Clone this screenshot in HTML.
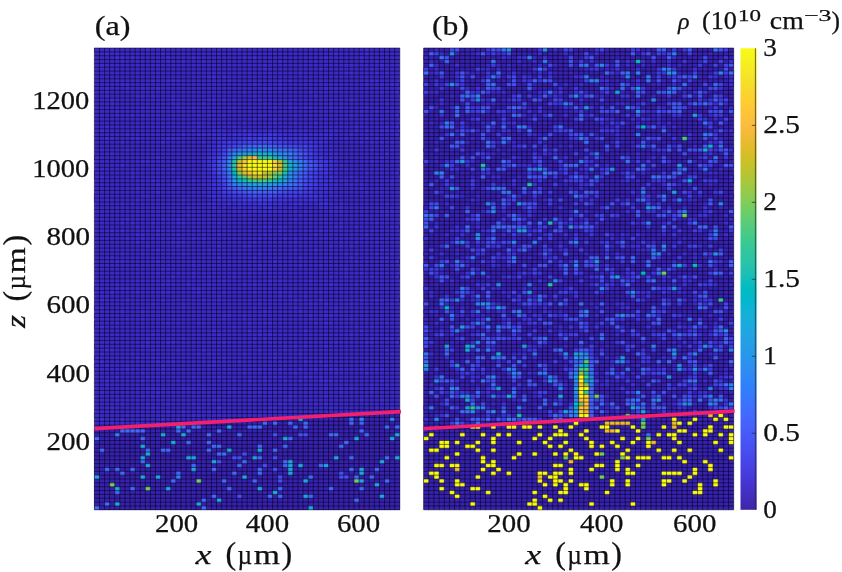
<!DOCTYPE html>
<html><head><meta charset="utf-8"><title>Density maps</title>
<style>html,body{margin:0;padding:0;background:#fff}svg{display:block}text{font-family:"Liberation Serif","DejaVu Serif",serif;fill:#111;stroke:#111;stroke-width:0.25px}</style></head><body>
<svg width="842" height="572" viewBox="0 0 842 572">
<rect width="842" height="572" fill="#fff"/>
<g id="panel-a"><rect x="94.40" y="48.00" width="305.40" height="461.80" fill="#3b29c8"/>
<g transform="translate(94.40,509.80) scale(5.0900,-3.8483)" fill="none" stroke-width="1.04">
<path stroke="#3621b1" d="M1 0.5h20M22 0.5h20M43 0.5h17M0 1.5h2M3 1.5h1M5 1.5h15M21 1.5h39M0 2.5h21M22 2.5h2M25 2.5h26M52 2.5h8M0 3.5h23M24 3.5h4M29 3.5h5M35 3.5h1M37 3.5h4M43 3.5h13M57 3.5h3M0 4.5h4M5 4.5h30M36 4.5h24M0 5.5h4M5 5.5h2M8 5.5h2M11 5.5h3M15 5.5h11M27 5.5h5M33 5.5h3M37 5.5h9M47 5.5h5M53 5.5h7M0 6.5h3M4 6.5h51M56 6.5h4M0 7.5h15M16 7.5h4M21 7.5h4M26 7.5h5M32 7.5h4M37 7.5h4M42 7.5h9M53 7.5h4M58 7.5h2M1 8.5h8M10 8.5h2M13 8.5h3M17 8.5h12M30 8.5h6M37 8.5h5M43 8.5h5M50 8.5h1M52 8.5h2M55 8.5h5M0 9.5h5M6 9.5h10M17 9.5h10M28 9.5h4M33 9.5h5M39 9.5h9M49 9.5h3M53 9.5h7M0 10.5h2M3 10.5h1M5 10.5h2M8 10.5h11M20 10.5h3M24 10.5h8M33 10.5h2M36 10.5h2M39 10.5h11M51 10.5h1M53 10.5h2M56 10.5h4M0 11.5h10M11 11.5h8M20 11.5h8M29 11.5h4M34 11.5h3M39 11.5h1M41 11.5h3M46 11.5h14M0 12.5h9M10 12.5h13M25 12.5h4M30 12.5h7M39 12.5h17M57 12.5h3M0 13.5h9M10 13.5h8M20 13.5h7M29 13.5h2M33 13.5h2M36 13.5h11M48 13.5h2M51 13.5h6M58 13.5h1M0 14.5h10M11 14.5h13M26 14.5h3M30 14.5h30M0 15.5h1M2 15.5h8M11 15.5h2M15 15.5h7M23 15.5h3M27 15.5h5M33 15.5h2M36 15.5h24M0 16.5h9M10 16.5h13M25 16.5h7M33 16.5h4M38 16.5h10M49 16.5h11M0 17.5h15M16 17.5h2M19 17.5h3M23 17.5h26M50 17.5h10M1 18.5h8M10 18.5h27M39 18.5h12M52 18.5h6M59 18.5h1M0 19.5h4M5 19.5h8M14 19.5h3M18 19.5h4M23 19.5h5M29 19.5h6M36 19.5h4M42 19.5h4M48 19.5h5M54 19.5h5M0 20.5h5M10 20.5h6M17 20.5h1M19 20.5h5M25 20.5h27M53 20.5h7M5 21.5h11M18 21.5h1M21 21.5h5M27 21.5h3M33 21.5h6M40 21.5h1M42 21.5h15M58 21.5h1M18 22.5h15M34 22.5h1M36 22.5h2M39 22.5h2M42 22.5h8M51 22.5h1M53 22.5h7M32 23.5h8M41 23.5h9M51 23.5h1M53 23.5h5M59 23.5h1M45 24.5h15M58 25.5h2"/>
<path stroke="#3d2dd3" d="M1 21.5h1M3 22.5h1M5 22.5h1M8 22.5h1M15 22.5h1M1 23.5h1M5 23.5h1M13 23.5h1M16 23.5h1M22 23.5h1M25 23.5h2M30 23.5h1M0 24.5h1M6 24.5h1M19 24.5h2M24 24.5h1M32 24.5h1M43 24.5h1M14 25.5h1M17 25.5h1M22 25.5h1M55 25.5h1M3 26.5h1M10 26.5h2M20 26.5h1M34 26.5h2M37 26.5h1M46 26.5h1M55 26.5h1M58 26.5h1M5 27.5h1M10 27.5h1M14 27.5h1M19 27.5h1M36 27.5h2M43 27.5h1M45 27.5h1M4 28.5h1M23 28.5h2M37 28.5h2M52 28.5h1M56 28.5h1M9 29.5h1M11 29.5h1M38 29.5h1M45 29.5h1M1 30.5h1M12 30.5h1M26 30.5h1M32 30.5h1M35 30.5h1M48 30.5h1M54 30.5h1M10 31.5h2M13 31.5h1M17 31.5h3M21 31.5h1M27 31.5h1M45 31.5h1M48 31.5h1M50 31.5h1M54 31.5h1M2 32.5h1M20 32.5h1M54 32.5h1M57 32.5h1M2 33.5h1M9 33.5h1M16 33.5h1M27 33.5h1M30 33.5h1M33 33.5h1M37 33.5h1M40 33.5h1M44 33.5h3M56 33.5h1M4 34.5h1M10 34.5h1M19 34.5h1M24 34.5h1M33 34.5h1M35 34.5h1M41 34.5h2M44 34.5h1M9 35.5h1M13 35.5h1M29 35.5h1M39 35.5h1M47 35.5h1M53 35.5h1M6 36.5h1M13 36.5h1M32 36.5h1M36 36.5h1M40 36.5h1M43 36.5h1M46 36.5h2M52 36.5h1M55 36.5h2M0 37.5h1M2 37.5h1M6 37.5h1M13 37.5h1M22 37.5h2M45 37.5h1M53 37.5h1M55 37.5h1M1 38.5h1M12 38.5h1M14 38.5h2M23 38.5h1M28 38.5h1M41 38.5h1M44 38.5h1M0 39.5h1M8 39.5h1M11 39.5h1M25 39.5h1M35 39.5h1M1 40.5h1M7 40.5h1M20 40.5h1M22 40.5h1M29 40.5h1M35 40.5h1M40 40.5h1M58 40.5h1M2 41.5h2M11 41.5h1M16 41.5h1M21 41.5h1M32 41.5h1M37 41.5h1M57 41.5h1M0 42.5h1M9 42.5h2M37 42.5h1M39 42.5h1M41 42.5h1M45 42.5h1M10 43.5h1M14 43.5h2M25 43.5h1M47 43.5h1M53 43.5h2M59 43.5h1M10 44.5h1M14 44.5h1M17 44.5h1M31 44.5h1M33 44.5h1M54 44.5h1M57 44.5h2M11 45.5h1M24 45.5h1M32 45.5h1M34 45.5h1M50 45.5h1M23 46.5h1M30 46.5h1M32 46.5h1M41 46.5h1M52 46.5h1M0 47.5h2M27 47.5h1M51 47.5h1M54 47.5h1M0 48.5h1M4 48.5h1M14 48.5h1M16 48.5h1M20 48.5h1M30 48.5h1M33 48.5h2M43 48.5h1M45 48.5h2M57 48.5h1M6 49.5h1M9 49.5h1M25 49.5h1M29 49.5h1M50 49.5h1M0 50.5h1M25 50.5h2M29 50.5h1M42 50.5h1M45 50.5h2M5 51.5h1M9 51.5h1M33 51.5h1M40 51.5h1M47 51.5h1M0 52.5h2M17 52.5h1M31 52.5h1M39 52.5h1M47 52.5h1M11 53.5h1M17 53.5h1M32 53.5h1M42 53.5h2M45 53.5h1M50 53.5h1M58 53.5h1M1 54.5h1M6 54.5h1M13 54.5h1M21 54.5h1M24 54.5h1M39 54.5h1M44 54.5h1M52 54.5h1M55 54.5h2M59 54.5h1M1 55.5h2M24 55.5h1M36 55.5h1M38 55.5h1M41 55.5h1M3 56.5h1M8 56.5h1M13 56.5h2M20 56.5h1M25 56.5h1M31 56.5h1M36 56.5h1M44 56.5h1M55 56.5h1M0 57.5h1M4 57.5h3M19 57.5h2M4 58.5h1M13 58.5h2M18 58.5h1M22 58.5h1M29 58.5h1M31 58.5h1M46 58.5h1M51 58.5h1M14 59.5h1M25 59.5h1M34 59.5h1M36 59.5h1M42 59.5h1M52 59.5h1M15 60.5h1M19 60.5h1M22 60.5h1M27 60.5h1M46 60.5h1M49 60.5h1M54 60.5h1M59 60.5h1M12 61.5h1M16 61.5h1M19 61.5h1M27 61.5h1M49 61.5h1M52 61.5h1M13 62.5h2M32 62.5h1M49 62.5h1M19 63.5h1M32 63.5h1M40 63.5h1M44 63.5h1M4 64.5h2M12 64.5h1M19 64.5h1M35 64.5h1M51 64.5h1M59 64.5h1M3 65.5h1M24 65.5h1M31 65.5h1M40 65.5h1M50 65.5h1M56 65.5h2M5 66.5h1M9 66.5h1M17 66.5h1M32 66.5h1M49 66.5h1M51 66.5h1M55 66.5h1M58 66.5h1M12 67.5h1M22 67.5h1M39 67.5h1M43 67.5h1M56 67.5h1M10 68.5h1M16 68.5h1M24 68.5h1M29 68.5h2M46 68.5h1M48 68.5h1M50 68.5h1M8 69.5h1M15 69.5h3M31 69.5h1M39 69.5h1M48 69.5h1M51 69.5h1M55 69.5h1M6 70.5h1M9 70.5h1M19 70.5h1M21 70.5h1M32 70.5h1M37 70.5h1M39 70.5h1M8 71.5h2M12 71.5h1M16 71.5h1M21 71.5h1M24 71.5h1M33 71.5h1M43 71.5h1M53 71.5h1M3 72.5h1M5 72.5h1M12 72.5h1M36 72.5h1M44 72.5h1M54 72.5h1M8 73.5h1M33 73.5h2M36 73.5h2M47 73.5h2M51 73.5h1M58 73.5h2M5 74.5h1M7 74.5h1M11 74.5h1M16 74.5h2M24 74.5h1M48 74.5h1M55 74.5h1M6 75.5h1M13 75.5h1M16 75.5h1M39 75.5h1M18 76.5h1M29 76.5h1M33 76.5h1M40 76.5h1M57 76.5h1M24 77.5h1M27 77.5h11M39 77.5h1M41 77.5h1M46 77.5h3M56 77.5h3M18 78.5h1M23 78.5h1M25 78.5h1M27 78.5h4M32 78.5h1M35 78.5h5M44 78.5h2M47 78.5h2M5 79.5h1M7 79.5h1M22 79.5h4M27 79.5h1M37 79.5h2M41 79.5h3M46 79.5h1M48 79.5h1M57 79.5h1M0 80.5h1M2 80.5h1M8 80.5h1M17 80.5h1M23 80.5h1M44 80.5h2M0 81.5h1M9 81.5h2M22 81.5h1M45 81.5h3M12 82.5h1M21 82.5h3M45 82.5h2M53 82.5h1M8 83.5h1M22 83.5h1M46 83.5h2M52 83.5h1M12 84.5h1M15 84.5h2M21 84.5h2M46 84.5h2M49 84.5h2M52 84.5h1M58 84.5h1M11 85.5h1M16 85.5h1M19 85.5h1M21 85.5h2M47 85.5h3M51 85.5h1M58 85.5h1M0 86.5h2M7 86.5h1M21 86.5h2M47 86.5h1M50 86.5h1M0 87.5h1M7 87.5h1M21 87.5h2M46 87.5h2M53 87.5h1M59 87.5h1M15 88.5h1M21 88.5h1M47 88.5h1M49 88.5h1M5 89.5h1M21 89.5h1M47 89.5h2M9 90.5h2M21 90.5h1M47 90.5h1M54 90.5h1M0 91.5h1M12 91.5h1M21 91.5h1M45 91.5h3M56 91.5h1M3 92.5h1M22 92.5h1M45 92.5h3M57 92.5h1M1 93.5h1M6 93.5h1M22 93.5h1M45 93.5h2M54 93.5h1M56 93.5h1M58 93.5h1M22 94.5h2M45 94.5h2M5 95.5h1M13 95.5h1M21 95.5h1M23 95.5h1M45 95.5h1M52 95.5h1M54 95.5h1M56 95.5h1M58 95.5h1M2 96.5h2M7 96.5h2M14 96.5h3M23 96.5h1M26 96.5h1M42 96.5h5M49 96.5h1M53 96.5h1M55 96.5h1M6 97.5h1M17 97.5h1M20 97.5h7M37 97.5h10M50 97.5h1M59 97.5h1M1 98.5h1M19 98.5h1M23 98.5h3M27 98.5h2M30 98.5h12M45 98.5h3M51 98.5h1M53 98.5h1M56 98.5h3M2 99.5h1M20 99.5h1M27 99.5h1M51 99.5h1M57 99.5h1M59 99.5h1M20 100.5h1M29 100.5h1M35 100.5h1M39 100.5h1M43 100.5h1M31 101.5h1M35 101.5h1M4 102.5h1M7 102.5h1M9 102.5h1M20 102.5h1M22 102.5h1M25 102.5h1M32 102.5h2M39 102.5h1M50 102.5h1M59 102.5h1M4 103.5h1M52 103.5h1M55 103.5h1M57 103.5h1M9 104.5h1M16 104.5h1M19 104.5h1M27 104.5h1M35 104.5h1M38 104.5h2M41 104.5h2M46 104.5h1M48 104.5h1M53 104.5h1M3 105.5h1M15 105.5h2M21 105.5h1M33 105.5h1M38 105.5h1M46 105.5h1M48 105.5h1M57 105.5h1M3 106.5h1M15 106.5h1M22 106.5h2M25 106.5h1M27 106.5h1M32 106.5h1M50 106.5h1M2 107.5h1M8 107.5h2M11 107.5h1M15 107.5h1M31 107.5h1M43 107.5h1M2 108.5h1M29 108.5h1M42 108.5h1M56 108.5h1M59 108.5h1M2 109.5h1M6 109.5h1M9 109.5h1M12 109.5h1M33 109.5h2M36 109.5h1M45 109.5h1M47 109.5h1M5 110.5h2M31 110.5h1M36 110.5h1M53 110.5h1M56 110.5h1M58 110.5h2M4 111.5h1M11 111.5h1M14 111.5h3M26 111.5h1M36 111.5h1M38 111.5h1M54 111.5h2M22 112.5h2M25 112.5h1M40 113.5h1M49 113.5h2M55 113.5h1M57 113.5h1M33 114.5h1M44 114.5h1M54 114.5h1M1 115.5h1M33 115.5h1M49 115.5h2M56 115.5h1M5 116.5h1M14 116.5h1M17 116.5h1M21 116.5h1M36 116.5h1M43 116.5h1M52 116.5h1M55 116.5h1M4 117.5h2M7 117.5h1M14 117.5h1M19 117.5h1M29 117.5h1M31 117.5h1M45 117.5h1M52 117.5h1M2 118.5h1M4 118.5h1M13 118.5h1M47 118.5h1M53 118.5h1M0 119.5h1M3 119.5h1M10 119.5h1M28 119.5h1M53 119.5h1"/>
<path stroke="#3f31dd" d="M24 26.5h1M31 78.5h1M33 78.5h2M26 79.5h1M28 79.5h4M34 79.5h3M39 79.5h2M44 79.5h2M24 80.5h3M38 80.5h6M23 81.5h2M44 81.5h1M24 82.5h1M43 82.5h2M23 83.5h1M44 83.5h2M23 84.5h1M44 84.5h2M23 85.5h1M45 85.5h2M23 86.5h1M45 86.5h2M22 88.5h1M46 88.5h1M22 89.5h1M46 89.5h1M22 90.5h1M46 90.5h1M22 91.5h1M23 92.5h1M44 92.5h1M23 93.5h1M44 93.5h1M44 94.5h1M24 95.5h1M43 95.5h2M24 96.5h2M27 96.5h2M37 96.5h5M27 97.5h3M31 97.5h3M36 97.5h1M29 98.5h1"/>
<path stroke="#4136e5" d="M32 79.5h2M27 80.5h2M35 80.5h3M25 81.5h2M40 81.5h4M24 83.5h1M43 83.5h1M24 84.5h1M44 85.5h1M44 86.5h1M23 87.5h1M44 87.5h2M45 88.5h1M45 89.5h1M23 90.5h1M45 90.5h1M23 91.5h1M43 91.5h2M24 92.5h1M43 92.5h1M24 93.5h1M43 93.5h1M24 94.5h1M43 94.5h1M25 95.5h1M38 95.5h5M29 96.5h1M31 96.5h1M35 96.5h2M30 97.5h1M34 97.5h2"/>
<path stroke="#423cec" d="M29 80.5h3M33 80.5h2M27 81.5h2M36 81.5h4M25 82.5h1M41 82.5h2M42 83.5h1M43 84.5h1M24 85.5h1M43 85.5h1M24 86.5h1M43 86.5h1M43 87.5h1M23 88.5h1M44 88.5h1M23 89.5h1M44 90.5h1M42 91.5h1M42 93.5h1M25 94.5h1M42 94.5h1M26 95.5h2M37 95.5h1M30 96.5h1M32 96.5h3"/>
<path stroke="#4342f1" d="M32 80.5h1M29 81.5h1M35 81.5h1M26 82.5h1M38 82.5h3M25 83.5h1M41 83.5h1M25 84.5h1M42 84.5h1M42 85.5h1M42 87.5h1M44 89.5h1M24 91.5h1M42 92.5h1M25 93.5h1M26 94.5h1M40 94.5h2M28 95.5h2M35 95.5h2"/>
<path stroke="#4448f5" d="M30 81.5h1M32 81.5h2M27 82.5h1M37 82.5h1M41 84.5h1M42 86.5h1M24 87.5h1M24 88.5h1M43 88.5h1M24 89.5h1M24 90.5h1M43 90.5h1M41 91.5h1M25 92.5h1M41 93.5h1M27 94.5h1M38 94.5h2M30 95.5h5"/>
<path stroke="#454ef9" d="M28 3.5h1M36 7.5h1M36 8.5h1M48 8.5h2M48 9.5h1M35 10.5h1M33 11.5h1M24 12.5h1M27 13.5h2M35 13.5h1M29 14.5h1M35 19.5h1M40 19.5h2M31 81.5h1M34 81.5h1M28 82.5h1M36 82.5h1M40 83.5h1M25 85.5h1M41 85.5h1M25 86.5h1M43 89.5h1M41 92.5h1M40 93.5h1M28 94.5h1M37 94.5h1"/>
<path stroke="#4554fb" d="M29 82.5h1M26 83.5h1M39 83.5h1M41 86.5h1M25 87.5h1M41 87.5h1M42 88.5h1M42 90.5h1M25 91.5h1M40 91.5h1M36 94.5h1"/>
<path stroke="#455bfd" d="M30 82.5h1M33 82.5h3M27 83.5h1M37 83.5h2M26 84.5h1M40 84.5h1M40 85.5h1M42 89.5h1M25 90.5h1M40 92.5h1M26 93.5h1M29 94.5h1M35 94.5h1"/>
<path stroke="#4461fe" d="M31 82.5h2M40 86.5h1M40 87.5h1M25 88.5h1M25 89.5h1M26 92.5h1M38 93.5h2M30 94.5h1M34 94.5h1"/>
<path stroke="#4268ff" d="M0 0.5h1M21 0.5h1M2 1.5h1M21 2.5h1M51 2.5h1M23 3.5h1M34 3.5h1M36 3.5h1M42 3.5h1M4 4.5h1M7 5.5h1M26 5.5h1M36 5.5h1M46 5.5h1M52 5.5h1M15 7.5h1M25 7.5h1M31 7.5h1M57 7.5h1M42 8.5h1M51 8.5h1M54 8.5h1M5 9.5h1M16 9.5h1M27 9.5h1M32 9.5h1M2 10.5h1M4 10.5h1M7 10.5h1M23 10.5h1M32 10.5h1M50 10.5h1M55 10.5h1M19 11.5h1M28 11.5h1M37 11.5h1M44 11.5h1M9 12.5h1M29 12.5h1M37 12.5h1M32 13.5h1M50 13.5h1M57 13.5h1M24 14.5h2M1 15.5h1M10 15.5h1M13 15.5h2M22 15.5h1M35 15.5h1M23 16.5h2M32 16.5h1M37 16.5h1M48 16.5h1M18 17.5h1M22 17.5h1M49 17.5h1M0 18.5h1M9 18.5h1M38 18.5h1M22 19.5h1M28 19.5h1M46 19.5h2M53 19.5h1M5 20.5h5M16 20.5h1M18 20.5h1M24 20.5h1M52 20.5h1M17 21.5h1M19 21.5h2M30 21.5h3M39 21.5h1M41 21.5h1M57 21.5h1M59 21.5h1M33 22.5h1M35 22.5h1M38 22.5h1M41 22.5h1M50 22.5h1M52 22.5h1M50 23.5h1M28 83.5h1M36 83.5h1M39 84.5h1M26 85.5h1M41 88.5h1M41 89.5h1M41 90.5h1M39 91.5h1M39 92.5h1M27 93.5h1M31 94.5h3"/>
<path stroke="#3e6fff" d="M35 83.5h1M39 85.5h1M26 86.5h1M36 93.5h2"/>
<path stroke="#3875fe" d="M29 83.5h1M38 84.5h1M39 87.5h1M38 91.5h1M28 93.5h1"/>
<path stroke="#327cfc" d="M30 83.5h1M34 83.5h1M27 84.5h1M37 84.5h1M39 86.5h1M26 87.5h1M40 88.5h1M40 90.5h1M26 91.5h1M29 93.5h1M35 93.5h1"/>
<path stroke="#2f81fa" d="M16 8.5h1M4 19.5h1M52 23.5h1M58 23.5h1M31 83.5h3M38 85.5h1M40 89.5h1M27 92.5h1M38 92.5h1"/>
<path stroke="#2e87f7" d="M28 84.5h1M36 84.5h1M26 90.5h1M37 92.5h1M30 93.5h1M34 93.5h1"/>
<path stroke="#2d8cf3" d="M38 86.5h1M38 87.5h1M26 88.5h1M36 92.5h1M31 93.5h1M33 93.5h1"/>
<path stroke="#2b91ef" d="M29 84.5h1M35 84.5h1M26 89.5h1M39 90.5h1M37 91.5h1M28 92.5h1M32 93.5h1"/>
<path stroke="#2797eb" d="M27 85.5h1M39 88.5h1"/>
<path stroke="#259be8" d="M34 84.5h1M37 85.5h1M39 89.5h1M29 92.5h1M35 92.5h1"/>
<path stroke="#23a0e5" d="M30 84.5h1M33 84.5h1M27 86.5h1"/>
<path stroke="#20a5e3" d="M42 0.5h1M4 1.5h1M20 1.5h1M24 2.5h1M41 3.5h1M56 3.5h1M35 4.5h1M4 5.5h1M14 5.5h1M32 5.5h1M55 6.5h1M41 7.5h1M52 7.5h1M0 8.5h1M9 8.5h1M12 8.5h1M29 8.5h1M38 9.5h1M52 9.5h1M19 10.5h1M38 10.5h1M52 10.5h1M10 11.5h1M38 11.5h1M40 11.5h1M45 11.5h1M23 12.5h1M38 12.5h1M56 12.5h1M9 13.5h1M18 13.5h2M31 13.5h1M47 13.5h1M59 13.5h1M10 14.5h1M26 15.5h1M32 15.5h1M9 16.5h1M15 17.5h1M37 18.5h1M51 18.5h1M58 18.5h1M13 19.5h1M17 19.5h1M59 19.5h1M16 21.5h1M26 21.5h1M40 23.5h1M31 84.5h2M30 92.5h1"/>
<path stroke="#1ca9df" d="M37 86.5h1M38 90.5h1M27 91.5h1M36 91.5h1M34 92.5h1"/>
<path stroke="#18addb" d="M33 92.5h1"/>
<path stroke="#12b1d6" d="M38 88.5h1M38 89.5h1M31 92.5h2"/>
<path stroke="#08b5d0" d="M28 85.5h1M36 85.5h1"/>
<path stroke="#01b8ca" d="M27 87.5h1"/>
<path stroke="#0bbdbd" d="M35 85.5h1M35 91.5h1"/>
<path stroke="#19bfb6" d="M29 85.5h1M37 87.5h1"/>
<path stroke="#24c1ae" d="M27 90.5h1"/>
<path stroke="#2cc4a7" d="M27 88.5h1"/>
<path stroke="#31c69f" d="M30 85.5h1M34 85.5h1M28 86.5h1M36 86.5h1M27 89.5h1M33 91.5h2"/>
<path stroke="#37c897" d="M37 90.5h1M32 91.5h1"/>
<path stroke="#3fca8e" d="M31 85.5h1M33 85.5h1M37 88.5h1M37 89.5h1M28 91.5h1"/>
<path stroke="#4acb84" d="M32 85.5h1"/>
<path stroke="#57cc7a" d="M29 86.5h1"/>
<path stroke="#64cd6f" d="M35 86.5h1"/>
<path stroke="#72cd64" d="M10 5.5h1M3 6.5h1M20 7.5h1M51 7.5h1M35 87.5h2"/>
<path stroke="#81cc59" d="M28 87.5h1"/>
<path stroke="#9dc943" d="M30 86.5h1M34 86.5h1M29 91.5h1"/>
<path stroke="#abc739" d="M34 87.5h1"/>
<path stroke="#b9c431" d="M33 86.5h1M36 90.5h1"/>
<path stroke="#c5c22a" d="M31 86.5h2M33 87.5h1M36 88.5h1M28 90.5h1"/>
<path stroke="#d1bf27" d="M28 88.5h1"/>
<path stroke="#dcbd29" d="M36 89.5h1M30 91.5h1"/>
<path stroke="#e6bb2d" d="M29 87.5h1M28 89.5h1"/>
<path stroke="#f8ba3d" d="M31 91.5h1"/>
<path stroke="#fec338" d="M30 87.5h1"/>
<path stroke="#fec934" d="M29 90.5h1"/>
<path stroke="#fccf30" d="M35 90.5h1"/>
<path stroke="#fad62d" d="M29 88.5h1M35 88.5h1"/>
<path stroke="#f7dc2a" d="M31 87.5h1"/>
<path stroke="#f5e327" d="M32 87.5h1M29 89.5h1M35 89.5h1"/>
<path stroke="#f9fb15" d="M30 88.5h5M30 89.5h5M30 90.5h5"/>
</g>
<path d="M94.40 48.00V509.80M99.49 48.00V509.80M104.58 48.00V509.80M109.67 48.00V509.80M114.76 48.00V509.80M119.85 48.00V509.80M124.94 48.00V509.80M130.03 48.00V509.80M135.12 48.00V509.80M140.21 48.00V509.80M145.30 48.00V509.80M150.39 48.00V509.80M155.48 48.00V509.80M160.57 48.00V509.80M165.66 48.00V509.80M170.75 48.00V509.80M175.84 48.00V509.80M180.93 48.00V509.80M186.02 48.00V509.80M191.11 48.00V509.80M196.20 48.00V509.80M201.29 48.00V509.80M206.38 48.00V509.80M211.47 48.00V509.80M216.56 48.00V509.80M221.65 48.00V509.80M226.74 48.00V509.80M231.83 48.00V509.80M236.92 48.00V509.80M242.01 48.00V509.80M247.10 48.00V509.80M252.19 48.00V509.80M257.28 48.00V509.80M262.37 48.00V509.80M267.46 48.00V509.80M272.55 48.00V509.80M277.64 48.00V509.80M282.73 48.00V509.80M287.82 48.00V509.80M292.91 48.00V509.80M298.00 48.00V509.80M303.09 48.00V509.80M308.18 48.00V509.80M313.27 48.00V509.80M318.36 48.00V509.80M323.45 48.00V509.80M328.54 48.00V509.80M333.63 48.00V509.80M338.72 48.00V509.80M343.81 48.00V509.80M348.90 48.00V509.80M353.99 48.00V509.80M359.08 48.00V509.80M364.17 48.00V509.80M369.26 48.00V509.80M374.35 48.00V509.80M379.44 48.00V509.80M384.53 48.00V509.80M389.62 48.00V509.80M394.71 48.00V509.80M399.80 48.00V509.80M94.40 48.00H399.80M94.40 51.85H399.80M94.40 55.70H399.80M94.40 59.55H399.80M94.40 63.39H399.80M94.40 67.24H399.80M94.40 71.09H399.80M94.40 74.94H399.80M94.40 78.79H399.80M94.40 82.64H399.80M94.40 86.48H399.80M94.40 90.33H399.80M94.40 94.18H399.80M94.40 98.03H399.80M94.40 101.88H399.80M94.40 105.72H399.80M94.40 109.57H399.80M94.40 113.42H399.80M94.40 117.27H399.80M94.40 121.12H399.80M94.40 124.97H399.80M94.40 128.81H399.80M94.40 132.66H399.80M94.40 136.51H399.80M94.40 140.36H399.80M94.40 144.21H399.80M94.40 148.06H399.80M94.40 151.91H399.80M94.40 155.75H399.80M94.40 159.60H399.80M94.40 163.45H399.80M94.40 167.30H399.80M94.40 171.15H399.80M94.40 175.00H399.80M94.40 178.84H399.80M94.40 182.69H399.80M94.40 186.54H399.80M94.40 190.39H399.80M94.40 194.24H399.80M94.40 198.09H399.80M94.40 201.93H399.80M94.40 205.78H399.80M94.40 209.63H399.80M94.40 213.48H399.80M94.40 217.33H399.80M94.40 221.18H399.80M94.40 225.02H399.80M94.40 228.87H399.80M94.40 232.72H399.80M94.40 236.57H399.80M94.40 240.42H399.80M94.40 244.27H399.80M94.40 248.11H399.80M94.40 251.96H399.80M94.40 255.81H399.80M94.40 259.66H399.80M94.40 263.51H399.80M94.40 267.36H399.80M94.40 271.20H399.80M94.40 275.05H399.80M94.40 278.90H399.80M94.40 282.75H399.80M94.40 286.60H399.80M94.40 290.45H399.80M94.40 294.29H399.80M94.40 298.14H399.80M94.40 301.99H399.80M94.40 305.84H399.80M94.40 309.69H399.80M94.40 313.54H399.80M94.40 317.38H399.80M94.40 321.23H399.80M94.40 325.08H399.80M94.40 328.93H399.80M94.40 332.78H399.80M94.40 336.62H399.80M94.40 340.47H399.80M94.40 344.32H399.80M94.40 348.17H399.80M94.40 352.02H399.80M94.40 355.87H399.80M94.40 359.72H399.80M94.40 363.56H399.80M94.40 367.41H399.80M94.40 371.26H399.80M94.40 375.11H399.80M94.40 378.96H399.80M94.40 382.81H399.80M94.40 386.65H399.80M94.40 390.50H399.80M94.40 394.35H399.80M94.40 398.20H399.80M94.40 402.05H399.80M94.40 405.90H399.80M94.40 409.74H399.80M94.40 413.59H399.80M94.40 417.44H399.80M94.40 421.29H399.80M94.40 425.14H399.80M94.40 428.99H399.80M94.40 432.83H399.80M94.40 436.68H399.80M94.40 440.53H399.80M94.40 444.38H399.80M94.40 448.23H399.80M94.40 452.08H399.80M94.40 455.92H399.80M94.40 459.77H399.80M94.40 463.62H399.80M94.40 467.47H399.80M94.40 471.32H399.80M94.40 475.17H399.80M94.40 479.01H399.80M94.40 482.86H399.80M94.40 486.71H399.80M94.40 490.56H399.80M94.40 494.41H399.80M94.40 498.26H399.80M94.40 502.10H399.80M94.40 505.95H399.80M94.40 509.80H399.80" fill="none" stroke="#000" stroke-width="0.65" opacity="0.8"/><line x1="94.4" y1="428.6" x2="401.0" y2="411.6" stroke="#f4206f" stroke-width="3.6"/></g>
<g id="panel-b"><rect x="423.60" y="48.00" width="310.10" height="461.80" fill="#3621b1"/>
<g transform="translate(423.60,509.80) scale(5.1683,-3.8483)" fill="none" stroke-width="1.04">
<path stroke="#3925bd" d="M8 22.5h1M22 25.5h2M25 25.5h1M34 26.5h1M43 26.5h1M21 27.5h1M33 27.5h1M47 27.5h1M53 27.5h1M46 29.5h2M15 30.5h1M42 30.5h1M59 30.5h1M9 31.5h1M18 31.5h3M27 31.5h1M37 31.5h1M49 31.5h1M53 31.5h1M23 32.5h1M33 32.5h1M36 33.5h1M40 33.5h1M35 34.5h1M6 35.5h1M10 35.5h1M56 35.5h1M22 36.5h1M38 37.5h1M45 37.5h1M48 37.5h1M23 38.5h1M9 39.5h1M47 39.5h1M52 39.5h1M57 39.5h1M8 40.5h1M11 41.5h1M14 41.5h1M18 41.5h1M49 41.5h1M5 42.5h1M14 42.5h1M35 42.5h1M5 43.5h1M34 43.5h1M39 43.5h1M45 43.5h1M45 44.5h1M48 44.5h1M4 45.5h1M18 45.5h1M54 45.5h1M1 46.5h1M10 46.5h1M16 46.5h1M55 46.5h1M3 47.5h1M25 47.5h1M35 47.5h1M0 48.5h1M3 48.5h1M19 48.5h1M22 48.5h1M42 49.5h1M59 49.5h1M2 50.5h1M35 50.5h1M50 50.5h2M57 50.5h1M0 51.5h1M54 51.5h1M58 51.5h1M35 52.5h1M7 53.5h1M33 53.5h1M35 53.5h1M39 53.5h1M40 54.5h1M39 55.5h1M41 55.5h2M31 56.5h1M48 56.5h1M53 56.5h1M10 57.5h1M22 57.5h1M36 57.5h2M2 58.5h1M5 58.5h1M21 60.5h1M27 60.5h1M31 60.5h1M45 60.5h1M6 61.5h1M24 61.5h1M20 62.5h1M44 63.5h1M46 63.5h2M12 64.5h1M42 64.5h1M7 65.5h1M19 65.5h1M29 65.5h1M54 65.5h1M0 66.5h1M38 66.5h1M41 66.5h1M20 67.5h1M32 67.5h1M41 69.5h1M43 69.5h1M48 69.5h1M31 70.5h1M50 70.5h1M54 70.5h1M42 71.5h1M45 71.5h1M41 72.5h1M9 73.5h1M11 73.5h1M51 73.5h1M17 74.5h1M45 74.5h1M54 74.5h1M30 75.5h1M49 75.5h1M6 76.5h1M19 76.5h1M26 76.5h1M44 76.5h1M52 76.5h1M55 76.5h1M21 77.5h1M48 77.5h1M0 78.5h1M36 78.5h1M44 79.5h1M49 79.5h1M10 80.5h1M44 80.5h1M12 81.5h1M14 81.5h1M41 81.5h1M59 81.5h1M18 83.5h1M21 83.5h1M39 83.5h1M27 84.5h1M49 85.5h1M59 85.5h1M6 86.5h1M21 87.5h2M50 87.5h1M57 87.5h1M4 88.5h1M24 88.5h1M24 89.5h1M32 89.5h1M39 89.5h1M47 89.5h1M57 89.5h1M1 90.5h1M36 90.5h1M2 91.5h1M8 91.5h1M26 91.5h1M43 91.5h1M49 91.5h1M39 92.5h1M46 92.5h1M0 93.5h1M5 93.5h1M9 93.5h1M11 93.5h1M16 93.5h2M21 93.5h1M24 93.5h1M15 94.5h1M36 95.5h1M40 95.5h1M6 96.5h1M18 96.5h1M38 96.5h1M55 96.5h1M6 97.5h1M16 97.5h1M22 97.5h1M33 97.5h1M1 98.5h1M11 98.5h1M13 98.5h1M8 99.5h1M11 99.5h1M17 99.5h1M29 99.5h1M34 99.5h1M36 99.5h1M47 99.5h1M53 99.5h1M23 100.5h1M26 100.5h1M39 100.5h1M58 100.5h1M41 101.5h1M44 101.5h1M48 101.5h1M38 102.5h1M44 102.5h1M1 103.5h1M27 103.5h2M52 103.5h1M20 104.5h1M11 105.5h1M17 105.5h2M8 106.5h1M47 106.5h1M21 107.5h1M52 107.5h1M5 109.5h1M21 109.5h1M21 110.5h1M29 110.5h1M33 110.5h1M44 110.5h1M58 110.5h1M16 111.5h1M37 111.5h1M39 111.5h1M46 111.5h1M8 112.5h1M53 112.5h1M9 113.5h2M16 113.5h1M25 113.5h1M28 113.5h1M49 113.5h1M36 114.5h1M54 114.5h1M19 115.5h1M36 115.5h1M40 116.5h1M0 117.5h2M9 118.5h1M37 118.5h1M55 118.5h1M8 119.5h2M35 119.5h1M43 119.5h1"/>
<path stroke="#3b29c8" d="M9 22.5h1M8 23.5h1M2 24.5h1M10 25.5h1M37 25.5h1M40 25.5h1M43 25.5h1M0 26.5h1M12 26.5h1M35 26.5h1M13 27.5h1M52 27.5h1M17 28.5h2M25 28.5h1M21 29.5h1M11 30.5h1M21 30.5h1M26 30.5h1M1 32.5h1M27 32.5h1M34 32.5h1M51 32.5h1M26 33.5h1M37 33.5h1M42 33.5h1M14 34.5h1M16 34.5h1M39 34.5h1M13 35.5h1M21 35.5h1M40 35.5h1M58 35.5h1M10 36.5h1M48 36.5h1M58 36.5h1M27 37.5h1M36 37.5h1M41 37.5h1M8 39.5h1M33 39.5h1M17 40.5h2M55 40.5h1M9 41.5h1M19 41.5h1M21 42.5h1M27 42.5h1M48 43.5h1M56 44.5h1M37 46.5h1M44 46.5h1M7 48.5h1M33 48.5h1M49 48.5h1M0 49.5h1M8 49.5h1M30 49.5h1M6 50.5h1M9 50.5h3M20 51.5h1M24 51.5h1M26 51.5h1M7 52.5h1M20 52.5h2M18 53.5h1M32 53.5h1M52 53.5h1M25 54.5h1M21 55.5h1M52 55.5h1M16 56.5h1M47 56.5h1M50 56.5h1M14 57.5h1M21 57.5h1M27 57.5h1M40 57.5h1M19 58.5h1M48 58.5h1M59 58.5h1M17 60.5h1M3 61.5h1M10 61.5h1M20 61.5h1M34 61.5h1M26 62.5h1M46 62.5h1M14 63.5h1M56 63.5h1M8 64.5h2M52 64.5h1M20 65.5h1M55 65.5h1M6 66.5h1M22 66.5h1M31 66.5h1M47 66.5h1M6 67.5h1M41 67.5h2M10 68.5h1M18 68.5h1M36 68.5h1M39 68.5h1M4 69.5h1M11 69.5h1M26 69.5h1M17 70.5h1M38 70.5h1M52 70.5h1M18 71.5h2M39 71.5h1M15 72.5h1M33 73.5h1M2 74.5h1M10 74.5h1M15 74.5h1M25 74.5h1M29 74.5h1M41 74.5h1M59 75.5h1M28 76.5h1M11 77.5h1M28 77.5h1M57 78.5h1M40 79.5h1M54 79.5h1M23 80.5h1M50 80.5h1M52 80.5h1M7 81.5h1M10 81.5h1M53 81.5h1M3 82.5h1M20 82.5h1M3 83.5h2M28 83.5h1M44 83.5h1M15 84.5h1M34 84.5h1M49 84.5h1M55 84.5h1M2 85.5h1M21 85.5h1M38 85.5h1M41 85.5h1M9 86.5h1M18 86.5h1M59 86.5h1M26 87.5h1M31 87.5h1M52 87.5h1M54 87.5h1M56 87.5h1M39 88.5h1M53 88.5h1M57 88.5h1M2 90.5h1M52 90.5h1M18 91.5h1M34 91.5h1M13 92.5h1M15 92.5h1M24 92.5h1M14 93.5h1M7 94.5h1M26 94.5h1M40 94.5h1M52 94.5h1M56 94.5h1M2 95.5h1M8 95.5h1M14 95.5h1M16 95.5h2M9 96.5h1M12 96.5h1M37 96.5h1M42 96.5h1M51 96.5h1M57 96.5h1M21 97.5h1M47 97.5h1M58 98.5h1M35 99.5h1M45 99.5h1M54 99.5h1M1 100.5h1M3 100.5h1M11 100.5h2M41 100.5h1M20 101.5h1M31 102.5h1M55 102.5h1M16 103.5h1M29 103.5h1M44 103.5h1M2 104.5h1M28 104.5h1M46 104.5h1M59 104.5h1M12 105.5h2M30 105.5h1M39 105.5h1M15 106.5h1M54 106.5h1M5 107.5h1M24 107.5h1M26 107.5h1M33 107.5h1M44 107.5h1M1 108.5h1M13 108.5h2M31 108.5h1M38 108.5h1M50 108.5h1M36 109.5h1M50 109.5h2M53 109.5h1M3 110.5h1M35 110.5h1M45 110.5h1M34 112.5h1M38 112.5h1M58 112.5h1M1 113.5h1M37 113.5h1M11 114.5h1M16 114.5h1M31 114.5h1M35 114.5h1M12 115.5h1M14 115.5h1M16 115.5h1M25 115.5h1M49 115.5h1M53 116.5h1M16 117.5h1M21 117.5h1M6 118.5h1M2 119.5h1"/>
<path stroke="#3d2dd3" d="M13 23.5h1M18 25.5h1M35 25.5h1M19 26.5h1M50 26.5h1M3 27.5h1M35 27.5h1M46 27.5h1M48 27.5h1M12 29.5h1M35 29.5h1M52 29.5h1M4 30.5h1M8 30.5h1M53 30.5h2M48 31.5h1M35 32.5h1M54 33.5h1M10 34.5h1M23 34.5h1M57 34.5h1M20 35.5h1M33 35.5h1M37 35.5h1M13 36.5h1M44 36.5h1M51 37.5h1M54 37.5h1M59 37.5h1M21 39.5h1M28 39.5h1M35 39.5h1M37 39.5h1M46 39.5h1M1 40.5h1M19 40.5h1M26 40.5h1M56 40.5h1M52 41.5h1M13 42.5h1M22 42.5h1M30 42.5h1M49 42.5h1M56 42.5h1M42 43.5h1M52 43.5h1M26 44.5h1M52 44.5h1M0 45.5h1M37 45.5h1M26 46.5h1M30 46.5h1M26 47.5h1M38 47.5h1M50 47.5h2M2 48.5h1M15 48.5h1M56 48.5h1M15 49.5h1M7 50.5h1M33 50.5h1M55 50.5h1M2 51.5h1M12 51.5h1M14 51.5h1M23 51.5h1M5 52.5h1M23 52.5h1M33 52.5h1M38 52.5h1M46 52.5h1M4 53.5h1M14 53.5h1M37 53.5h1M9 54.5h1M47 54.5h1M53 54.5h1M1 55.5h1M9 55.5h1M16 55.5h1M20 55.5h1M1 56.5h1M9 56.5h1M15 56.5h1M28 56.5h1M34 56.5h1M42 56.5h1M49 56.5h1M13 57.5h1M19 57.5h1M11 58.5h1M32 58.5h1M34 58.5h1M56 58.5h1M5 59.5h1M46 59.5h1M51 59.5h1M15 60.5h1M38 60.5h1M47 60.5h1M49 60.5h1M51 60.5h1M18 61.5h1M3 62.5h1M10 62.5h1M48 62.5h1M5 63.5h1M8 63.5h1M16 63.5h1M53 63.5h1M28 64.5h1M48 64.5h1M24 65.5h1M52 65.5h1M24 66.5h1M37 66.5h1M50 66.5h1M52 66.5h1M17 67.5h1M26 67.5h1M43 67.5h1M17 68.5h1M29 68.5h1M53 68.5h1M14 69.5h1M44 69.5h1M46 69.5h1M0 70.5h1M36 70.5h1M4 71.5h1M15 71.5h1M23 71.5h1M36 71.5h1M46 71.5h1M58 71.5h1M5 72.5h1M11 72.5h1M17 72.5h1M20 72.5h1M55 72.5h1M27 74.5h1M30 74.5h1M46 74.5h1M58 74.5h1M26 75.5h1M52 75.5h1M47 76.5h1M58 76.5h1M15 77.5h1M31 77.5h1M50 78.5h1M4 79.5h1M9 80.5h1M21 80.5h1M51 80.5h1M18 81.5h1M11 83.5h1M30 83.5h1M5 84.5h1M17 84.5h1M31 84.5h1M46 84.5h1M51 84.5h1M13 86.5h2M38 87.5h1M40 87.5h1M42 87.5h1M55 87.5h1M30 88.5h1M43 88.5h1M3 89.5h1M18 89.5h2M26 89.5h1M35 89.5h1M9 90.5h1M41 91.5h1M53 91.5h1M12 92.5h1M25 92.5h1M41 92.5h1M44 93.5h1M17 94.5h1M28 94.5h1M48 94.5h1M56 95.5h1M37 97.5h1M6 98.5h1M10 98.5h1M56 98.5h1M59 98.5h1M13 99.5h1M20 99.5h1M48 99.5h1M16 100.5h1M34 100.5h1M37 100.5h1M45 100.5h1M47 100.5h1M35 101.5h2M40 101.5h1M43 101.5h1M45 101.5h1M56 101.5h1M15 102.5h1M19 102.5h1M21 102.5h1M45 102.5h1M12 103.5h1M43 103.5h1M5 104.5h1M30 104.5h1M3 105.5h1M37 105.5h2M41 105.5h1M56 105.5h1M58 105.5h1M12 106.5h1M16 106.5h1M22 107.5h1M34 107.5h1M2 108.5h1M15 108.5h1M22 108.5h1M25 108.5h1M34 108.5h1M52 108.5h1M8 109.5h1M27 110.5h1M30 110.5h1M48 110.5h1M59 110.5h1M2 111.5h1M6 111.5h1M34 111.5h1M49 111.5h1M59 111.5h1M20 112.5h1M59 112.5h1M8 113.5h1M22 113.5h1M2 114.5h1M12 114.5h1M14 114.5h1M2 115.5h1M22 115.5h1M39 115.5h1M42 115.5h1M1 116.5h1M18 116.5h1M21 116.5h1M15 117.5h1M18 117.5h2M48 117.5h1M3 118.5h1M10 118.5h1M12 118.5h1M14 118.5h1M22 118.5h1M27 118.5h1M33 118.5h1M25 119.5h1"/>
<path stroke="#3f31dd" d="M1 21.5h1M0 23.5h1M3 24.5h1M15 24.5h1M24 24.5h1M49 26.5h1M55 26.5h1M15 27.5h1M28 27.5h1M41 27.5h1M41 29.5h1M6 30.5h1M12 30.5h1M10 31.5h1M12 31.5h1M57 31.5h2M40 32.5h1M6 33.5h1M35 33.5h1M9 34.5h1M38 34.5h1M51 34.5h1M9 35.5h1M11 35.5h1M16 35.5h1M43 35.5h1M6 36.5h1M45 36.5h1M14 38.5h1M36 38.5h1M43 38.5h1M4 39.5h1M13 41.5h1M20 42.5h1M9 43.5h1M50 43.5h1M56 43.5h2M6 44.5h1M5 45.5h1M9 45.5h1M14 45.5h1M27 45.5h1M53 45.5h1M55 45.5h1M3 46.5h1M7 46.5h1M48 46.5h1M11 47.5h1M43 47.5h1M53 47.5h1M18 48.5h1M10 49.5h1M19 49.5h1M37 49.5h1M43 49.5h1M22 50.5h1M26 50.5h1M41 50.5h1M45 50.5h1M1 51.5h1M5 51.5h1M15 51.5h1M3 52.5h1M11 52.5h1M39 52.5h1M23 53.5h1M38 53.5h1M54 53.5h1M7 54.5h1M12 54.5h1M21 54.5h1M42 54.5h1M50 54.5h1M52 54.5h1M43 56.5h1M49 57.5h1M36 58.5h1M50 58.5h1M22 59.5h1M36 59.5h1M50 59.5h1M12 60.5h1M32 60.5h1M39 60.5h1M46 60.5h1M8 61.5h1M39 61.5h1M56 62.5h1M13 63.5h1M7 64.5h1M57 64.5h1M8 65.5h1M14 65.5h2M3 66.5h1M11 66.5h1M17 66.5h1M35 66.5h1M3 68.5h1M13 68.5h1M40 68.5h2M5 69.5h1M34 69.5h1M37 69.5h1M7 71.5h1M13 71.5h1M27 71.5h1M38 71.5h1M41 71.5h1M6 72.5h2M12 72.5h1M53 72.5h1M6 73.5h1M10 73.5h1M20 73.5h1M28 74.5h1M33 74.5h1M31 75.5h1M51 75.5h1M9 76.5h1M18 76.5h1M29 76.5h1M53 76.5h1M39 77.5h1M44 77.5h1M46 77.5h1M54 77.5h1M19 78.5h1M26 78.5h1M34 78.5h1M47 78.5h1M30 80.5h1M32 80.5h1M39 80.5h1M43 80.5h1M48 80.5h1M16 81.5h1M9 83.5h1M21 84.5h1M30 84.5h1M39 85.5h1M44 85.5h1M46 85.5h1M11 87.5h2M34 87.5h1M6 88.5h1M26 88.5h1M31 88.5h1M8 89.5h1M20 89.5h1M4 90.5h1M32 90.5h1M47 90.5h1M11 91.5h1M27 91.5h1M44 91.5h1M54 92.5h2M46 93.5h1M56 93.5h1M59 93.5h1M23 94.5h1M43 94.5h1M22 96.5h1M28 96.5h1M51 97.5h1M16 98.5h1M37 98.5h1M17 100.5h1M9 101.5h1M54 101.5h1M3 102.5h1M23 102.5h1M27 102.5h1M48 102.5h2M17 103.5h1M20 103.5h1M27 104.5h1M45 104.5h1M26 105.5h1M11 106.5h1M30 106.5h1M55 106.5h1M25 107.5h1M30 107.5h1M9 108.5h2M29 108.5h1M10 109.5h1M26 109.5h1M57 109.5h1M41 110.5h1M20 111.5h1M35 111.5h1M6 112.5h1M29 112.5h2M47 112.5h1M56 112.5h1M2 113.5h1M6 113.5h1M17 113.5h1M24 113.5h1M32 114.5h1M41 114.5h1M52 114.5h1M6 115.5h1M47 115.5h1M32 116.5h1M39 116.5h1M42 116.5h1M44 116.5h1M47 116.5h1M59 116.5h1M23 117.5h1M58 117.5h1M15 118.5h1M46 118.5h1M33 119.5h1M41 119.5h1"/>
<path stroke="#4136e5" d="M22 23.5h1M12 24.5h1M16 24.5h1M46 25.5h1M36 26.5h1M59 26.5h1M58 27.5h1M26 28.5h1M49 28.5h1M58 28.5h1M14 29.5h2M22 29.5h1M7 30.5h1M40 30.5h1M2 31.5h1M38 31.5h1M51 31.5h1M5 32.5h1M18 32.5h1M23 33.5h1M57 33.5h1M2 34.5h1M58 34.5h1M7 35.5h1M15 36.5h1M51 36.5h1M53 36.5h1M39 38.5h1M51 39.5h1M20 41.5h1M34 41.5h1M42 41.5h1M1 43.5h1M37 43.5h1M59 43.5h1M13 44.5h1M17 44.5h1M49 44.5h1M2 45.5h1M57 45.5h1M12 46.5h1M24 46.5h1M51 46.5h1M28 47.5h1M33 47.5h1M54 47.5h1M56 47.5h1M20 48.5h1M11 49.5h1M16 49.5h1M20 49.5h1M38 49.5h1M41 49.5h1M21 50.5h1M25 50.5h1M49 50.5h1M9 51.5h1M45 51.5h1M13 53.5h1M21 53.5h1M10 54.5h1M18 54.5h1M54 54.5h2M4 55.5h1M18 55.5h1M29 55.5h1M43 55.5h1M6 56.5h1M29 56.5h1M41 56.5h1M46 56.5h1M0 57.5h1M46 57.5h1M10 58.5h1M38 58.5h1M54 58.5h1M40 59.5h1M2 60.5h1M7 60.5h1M16 60.5h1M33 60.5h1M2 61.5h1M22 61.5h1M30 61.5h1M44 61.5h1M0 62.5h1M2 62.5h1M36 62.5h1M39 62.5h1M35 63.5h1M13 64.5h1M26 64.5h1M23 65.5h1M45 65.5h1M10 66.5h1M14 66.5h1M16 66.5h1M55 66.5h1M10 67.5h1M27 67.5h1M26 68.5h1M49 69.5h1M12 70.5h1M29 71.5h1M32 71.5h1M48 71.5h1M21 72.5h1M32 72.5h1M49 72.5h1M59 72.5h1M2 73.5h1M43 73.5h1M18 74.5h1M42 74.5h1M8 75.5h1M15 75.5h1M19 75.5h1M23 75.5h1M20 76.5h1M54 76.5h1M20 77.5h1M43 77.5h1M8 78.5h1M21 78.5h1M54 78.5h1M32 79.5h1M45 79.5h1M16 80.5h1M6 81.5h1M43 81.5h1M40 82.5h1M51 82.5h1M56 82.5h1M17 85.5h1M22 85.5h1M27 85.5h2M45 85.5h1M55 85.5h2M31 86.5h1M34 86.5h1M46 87.5h1M5 88.5h1M34 88.5h1M31 89.5h1M5 90.5h1M8 90.5h1M21 90.5h1M17 91.5h1M22 91.5h1M58 91.5h1M11 92.5h1M21 92.5h1M23 92.5h1M2 93.5h1M45 93.5h1M18 94.5h1M22 95.5h1M55 95.5h1M29 96.5h1M33 96.5h1M48 96.5h1M4 97.5h1M20 97.5h1M56 97.5h1M8 98.5h1M15 98.5h1M18 98.5h1M25 98.5h1M35 98.5h1M7 99.5h1M37 99.5h1M43 99.5h1M46 99.5h1M42 101.5h1M53 102.5h1M57 102.5h1M9 103.5h1M22 103.5h1M9 104.5h2M22 104.5h1M32 104.5h1M25 105.5h1M3 106.5h1M17 107.5h1M38 107.5h2M47 107.5h1M23 108.5h1M26 108.5h1M54 108.5h1M3 109.5h1M29 109.5h1M2 110.5h1M7 110.5h1M11 111.5h1M19 111.5h1M22 111.5h1M41 111.5h1M12 112.5h1M19 112.5h1M24 112.5h1M55 112.5h1M12 113.5h1M36 113.5h1M46 113.5h1M21 114.5h1M33 114.5h1M37 114.5h1M45 114.5h1M50 116.5h1M42 118.5h1M12 119.5h1M22 119.5h1M50 119.5h1"/>
<path stroke="#423cec" d="M5 22.5h1M15 22.5h1M11 23.5h1M27 24.5h1M6 26.5h1M26 27.5h1M44 29.5h1M53 29.5h1M39 30.5h1M51 30.5h1M47 31.5h1M52 32.5h1M9 33.5h1M33 33.5h1M39 33.5h1M45 33.5h1M50 33.5h1M52 34.5h1M59 34.5h1M8 35.5h1M2 36.5h1M27 36.5h2M46 36.5h1M50 36.5h1M55 36.5h1M10 37.5h1M19 37.5h1M25 38.5h1M42 38.5h1M42 39.5h2M32 40.5h1M5 41.5h1M21 41.5h1M29 41.5h1M32 41.5h1M44 41.5h1M12 42.5h1M39 42.5h1M51 42.5h1M53 42.5h1M59 42.5h1M23 43.5h1M53 43.5h1M16 44.5h1M59 44.5h1M10 45.5h1M17 45.5h1M28 45.5h1M40 45.5h2M44 45.5h1M21 46.5h1M52 46.5h1M17 47.5h1M49 47.5h1M21 48.5h1M31 48.5h1M27 49.5h1M53 49.5h1M22 53.5h1M27 53.5h1M47 53.5h1M49 53.5h1M23 55.5h1M26 56.5h1M28 57.5h1M35 57.5h1M47 57.5h1M12 58.5h1M35 58.5h1M55 58.5h1M26 59.5h1M30 59.5h1M39 59.5h1M18 60.5h1M40 60.5h1M19 61.5h1M36 61.5h1M40 61.5h1M1 62.5h1M21 62.5h1M26 63.5h1M3 64.5h1M32 64.5h1M38 64.5h1M56 64.5h1M1 65.5h1M16 65.5h1M25 65.5h1M49 65.5h1M1 67.5h1M23 67.5h2M35 67.5h1M57 67.5h1M14 68.5h1M48 68.5h1M51 68.5h1M8 69.5h1M10 69.5h1M31 69.5h1M35 69.5h1M42 69.5h1M6 70.5h1M24 70.5h1M29 70.5h1M17 71.5h1M20 71.5h1M55 71.5h1M31 72.5h1M46 72.5h1M52 72.5h1M22 73.5h2M40 74.5h1M51 74.5h1M9 75.5h1M16 76.5h1M33 76.5h1M37 76.5h1M0 77.5h1M55 77.5h1M15 78.5h1M40 78.5h1M16 79.5h1M24 79.5h1M38 79.5h1M37 80.5h1M21 81.5h1M31 81.5h1M33 81.5h1M51 81.5h1M24 82.5h1M22 83.5h1M4 84.5h1M9 84.5h1M13 84.5h1M43 84.5h1M4 85.5h1M9 85.5h1M29 85.5h1M54 85.5h1M25 86.5h1M28 86.5h1M20 87.5h1M29 87.5h1M5 89.5h1M55 89.5h1M31 90.5h1M41 90.5h1M43 90.5h1M31 91.5h1M32 92.5h1M7 93.5h1M35 93.5h1M13 95.5h1M44 96.5h1M14 97.5h1M27 98.5h1M34 98.5h1M36 98.5h1M36 100.5h1M55 100.5h1M10 101.5h1M29 101.5h1M53 101.5h1M32 102.5h1M39 102.5h1M56 102.5h1M10 103.5h1M14 103.5h2M30 103.5h1M36 103.5h1M42 103.5h1M46 103.5h1M19 104.5h1M41 104.5h1M56 104.5h1M51 105.5h1M18 106.5h1M26 106.5h1M53 106.5h1M57 106.5h1M20 107.5h1M50 107.5h1M57 107.5h1M0 108.5h1M12 108.5h1M42 109.5h1M51 111.5h1M3 112.5h1M16 112.5h1M22 112.5h1M48 112.5h1M45 113.5h1M56 113.5h1M58 113.5h1M0 114.5h1M10 114.5h1M48 114.5h1M13 115.5h1M35 115.5h1M53 115.5h1M30 116.5h1M31 117.5h1M13 118.5h1M51 118.5h1M28 119.5h1M40 119.5h1M58 119.5h1"/>
<path stroke="#4342f1" d="M2 21.5h1M7 22.5h1M15 23.5h1M31 23.5h1M24 25.5h1M26 25.5h1M41 25.5h1M52 25.5h1M56 26.5h2M33 28.5h1M6 29.5h1M9 29.5h1M3 30.5h1M22 30.5h2M47 32.5h1M50 32.5h1M56 32.5h1M12 33.5h1M17 33.5h1M7 34.5h1M35 35.5h1M44 35.5h1M52 35.5h1M11 36.5h1M5 37.5h1M23 37.5h1M5 38.5h1M10 38.5h1M16 38.5h1M28 38.5h1M42 40.5h1M32 42.5h1M40 42.5h1M0 43.5h1M11 44.5h1M21 44.5h1M46 44.5h1M20 45.5h1M29 45.5h1M45 45.5h1M50 45.5h1M5 46.5h1M9 47.5h1M31 47.5h1M9 48.5h1M34 48.5h1M59 48.5h1M22 49.5h1M57 49.5h1M48 50.5h1M46 51.5h1M13 52.5h1M58 53.5h1M5 54.5h1M25 55.5h1M8 56.5h1M27 56.5h1M33 56.5h1M11 57.5h1M45 57.5h1M33 58.5h1M53 58.5h1M55 59.5h1M24 60.5h1M43 60.5h1M21 61.5h1M55 61.5h1M59 61.5h1M9 62.5h1M50 63.5h1M11 64.5h1M16 64.5h1M18 67.5h1M30 67.5h1M8 68.5h1M23 68.5h1M55 68.5h1M12 69.5h1M16 69.5h1M40 70.5h1M24 71.5h1M29 73.5h1M47 74.5h1M48 75.5h1M34 76.5h1M48 76.5h1M12 77.5h1M29 79.5h1M17 80.5h1M24 80.5h1M5 81.5h1M42 81.5h1M45 81.5h1M29 82.5h1M53 82.5h1M25 84.5h1M48 84.5h1M30 85.5h1M33 85.5h1M51 86.5h2M27 87.5h1M9 88.5h1M12 88.5h1M27 88.5h1M35 88.5h1M15 89.5h2M54 89.5h1M0 90.5h1M26 90.5h1M39 91.5h1M54 91.5h1M29 92.5h1M25 93.5h1M55 93.5h1M13 94.5h1M37 94.5h1M37 95.5h1M56 96.5h1M28 97.5h1M26 98.5h1M25 99.5h1M55 99.5h1M7 100.5h1M15 100.5h1M15 101.5h1M34 101.5h1M58 101.5h1M34 104.5h1M50 104.5h1M24 105.5h1M42 105.5h1M47 105.5h1M9 106.5h1M17 106.5h1M22 106.5h1M58 106.5h1M35 108.5h1M13 109.5h2M35 109.5h1M55 109.5h1M0 110.5h1M4 110.5h1M39 110.5h1M57 110.5h1M7 111.5h1M31 111.5h1M14 112.5h1M45 112.5h1M49 112.5h1M52 113.5h1M23 114.5h1M56 115.5h1M58 115.5h1M57 116.5h1M2 118.5h1M45 118.5h1M47 118.5h1M27 119.5h1M34 119.5h1M48 119.5h1"/>
<path stroke="#4448f5" d="M6 23.5h1M18 23.5h1M40 24.5h2M11 27.5h1M49 27.5h1M4 28.5h1M9 28.5h1M50 29.5h1M52 31.5h1M43 32.5h1M49 32.5h1M57 32.5h1M56 33.5h1M18 34.5h1M25 34.5h1M41 34.5h1M45 35.5h1M43 36.5h1M55 37.5h1M17 39.5h1M32 39.5h1M51 40.5h1M39 41.5h1M57 41.5h1M0 42.5h1M57 42.5h1M55 43.5h1M7 44.5h1M15 44.5h1M32 44.5h1M3 45.5h1M46 45.5h1M51 45.5h1M0 46.5h1M31 46.5h1M0 47.5h1M11 48.5h1M35 49.5h1M19 50.5h1M27 50.5h1M41 51.5h1M19 53.5h1M17 54.5h1M27 54.5h1M41 54.5h1M46 54.5h1M17 56.5h1M52 56.5h1M8 57.5h1M8 60.5h1M47 62.5h1M2 63.5h1M32 63.5h1M13 65.5h1M37 65.5h1M9 67.5h1M12 68.5h1M20 68.5h1M38 68.5h1M52 68.5h1M15 69.5h1M22 70.5h1M56 70.5h1M35 71.5h1M1 72.5h1M22 72.5h1M26 72.5h1M28 75.5h1M2 76.5h1M36 76.5h1M1 78.5h1M5 78.5h1M1 79.5h2M13 79.5h1M43 79.5h1M26 80.5h1M4 81.5h1M30 81.5h1M2 82.5h1M33 82.5h1M50 82.5h1M57 82.5h1M12 83.5h1M47 83.5h1M32 84.5h1M30 86.5h1M39 86.5h2M46 86.5h1M48 86.5h1M39 87.5h1M22 89.5h1M44 89.5h1M16 90.5h1M56 90.5h1M21 91.5h1M46 91.5h1M23 93.5h1M31 93.5h1M52 93.5h1M19 94.5h1M41 94.5h1M47 94.5h1M29 97.5h1M12 98.5h1M3 99.5h1M34 103.5h2M55 103.5h2M16 104.5h1M40 104.5h1M8 105.5h1M53 105.5h1M55 105.5h1M25 106.5h1M34 106.5h1M28 107.5h1M30 108.5h1M42 108.5h1M7 109.5h1M54 110.5h1M17 112.5h1M51 112.5h1M24 115.5h1M54 116.5h1M28 117.5h1M54 117.5h1M31 118.5h1M5 119.5h1M14 119.5h1"/>
<path stroke="#454ef9" d="M26 24.5h1M15 26.5h1M4 27.5h1M34 28.5h1M39 28.5h1M2 29.5h1M19 29.5h1M34 29.5h1M51 29.5h1M44 30.5h1M46 30.5h1M3 31.5h1M13 31.5h1M20 32.5h1M25 32.5h1M3 33.5h1M5 33.5h1M13 33.5h1M37 34.5h1M38 35.5h1M46 35.5h1M23 36.5h1M9 37.5h1M52 37.5h1M51 38.5h1M19 39.5h1M18 44.5h1M26 45.5h1M48 45.5h1M58 45.5h1M18 46.5h1M38 46.5h1M8 47.5h1M15 47.5h1M18 47.5h1M30 47.5h1M16 48.5h1M44 48.5h1M28 49.5h2M24 50.5h1M44 50.5h1M7 51.5h1M56 51.5h1M58 52.5h1M0 53.5h1M20 53.5h1M53 53.5h1M55 53.5h1M53 55.5h1M19 56.5h1M39 56.5h1M54 56.5h1M3 59.5h1M34 59.5h1M4 60.5h1M41 60.5h1M50 60.5h1M52 60.5h1M1 61.5h1M29 61.5h1M6 62.5h1M29 62.5h1M6 63.5h1M19 63.5h1M22 63.5h1M31 63.5h1M33 63.5h1M55 63.5h1M4 64.5h1M31 64.5h1M11 67.5h1M43 68.5h2M13 69.5h1M55 70.5h1M56 73.5h1M0 74.5h1M26 74.5h1M0 75.5h1M34 75.5h1M45 76.5h1M20 79.5h2M41 80.5h1M55 80.5h1M19 82.5h1M22 82.5h1M52 83.5h1M50 85.5h1M5 86.5h1M21 86.5h2M33 89.5h1M59 89.5h1M22 90.5h1M9 91.5h1M33 91.5h1M10 92.5h1M50 92.5h1M49 93.5h1M51 93.5h1M57 93.5h2M21 94.5h1M49 94.5h1M57 95.5h1M11 96.5h1M31 96.5h1M34 96.5h1M45 96.5h1M54 96.5h1M24 97.5h1M7 98.5h1M57 98.5h1M41 99.5h1M38 100.5h1M21 101.5h1M33 101.5h1M41 102.5h1M1 104.5h1M11 104.5h2M19 105.5h1M28 105.5h1M18 107.5h1M31 107.5h1M56 107.5h1M46 108.5h1M49 109.5h1M56 109.5h1M6 110.5h1M16 110.5h2M20 110.5h1M25 110.5h1M17 111.5h1M24 111.5h1M45 111.5h1M9 112.5h1M58 114.5h1M28 115.5h1M4 117.5h1M44 117.5h1M16 118.5h1M43 118.5h1M6 119.5h1M13 119.5h1"/>
<path stroke="#4554fb" d="M4 24.5h1M12 25.5h1M28 26.5h1M37 26.5h1M44 26.5h1M46 26.5h1M55 28.5h1M10 29.5h1M45 29.5h1M48 29.5h1M54 29.5h1M57 29.5h1M5 30.5h1M17 31.5h1M21 32.5h1M26 32.5h1M4 33.5h1M9 36.5h1M36 36.5h1M14 37.5h1M17 37.5h1M0 39.5h1M27 39.5h1M48 39.5h1M34 40.5h1M25 41.5h1M55 42.5h1M38 43.5h1M12 44.5h1M14 44.5h1M22 44.5h1M56 45.5h1M40 46.5h1M47 46.5h1M56 46.5h1M5 47.5h1M23 48.5h2M5 49.5h1M39 50.5h2M4 51.5h1M30 51.5h1M34 51.5h1M57 51.5h1M24 53.5h1M20 54.5h1M12 56.5h1M43 59.5h1M34 60.5h1M27 62.5h1M35 62.5h1M23 63.5h1M24 64.5h1M38 65.5h1M54 66.5h1M46 67.5h1M19 68.5h1M8 72.5h1M25 72.5h1M26 73.5h1M31 73.5h2M48 73.5h1M31 74.5h1M10 75.5h1M10 76.5h1M30 76.5h1M41 76.5h1M46 76.5h1M49 76.5h1M41 77.5h1M49 77.5h1M20 78.5h1M31 79.5h1M36 79.5h1M28 82.5h1M32 82.5h1M6 83.5h1M42 83.5h1M32 85.5h1M23 86.5h1M15 88.5h1M23 88.5h1M49 88.5h1M53 89.5h1M46 90.5h1M55 90.5h1M7 91.5h1M12 91.5h1M58 92.5h1M53 93.5h1M6 94.5h1M42 95.5h1M3 96.5h1M43 96.5h1M11 97.5h1M30 97.5h1M32 97.5h1M9 98.5h1M28 98.5h1M5 100.5h1M0 103.5h1M45 103.5h1M47 103.5h2M57 103.5h1M59 103.5h1M36 104.5h1M49 104.5h1M49 105.5h1M7 106.5h1M9 107.5h1M53 107.5h1M40 109.5h1M47 109.5h1M48 111.5h1M7 112.5h1M3 113.5h1M7 113.5h1M33 115.5h1M37 115.5h1M59 115.5h1M28 116.5h1M37 116.5h1M32 117.5h1M11 118.5h1M57 119.5h1"/>
<path stroke="#455bfd" d="M9 23.5h2M14 23.5h1M21 23.5h1M32 24.5h1M32 25.5h1M34 25.5h1M5 26.5h1M22 26.5h1M42 26.5h1M45 26.5h1M58 26.5h1M32 27.5h1M44 27.5h1M23 28.5h1M50 28.5h1M17 29.5h1M42 29.5h1M20 33.5h1M44 33.5h1M42 35.5h1M32 37.5h1M8 38.5h1M29 38.5h1M32 38.5h2M52 38.5h1M11 39.5h1M56 39.5h1M4 41.5h1M30 41.5h2M47 41.5h1M12 43.5h1M22 43.5h1M0 44.5h1M27 44.5h1M57 46.5h1M37 47.5h1M30 48.5h1M45 48.5h1M36 49.5h1M44 52.5h1M54 52.5h1M46 53.5h1M7 55.5h1M12 55.5h1M40 55.5h1M7 56.5h1M38 59.5h1M48 59.5h1M3 60.5h1M57 61.5h1M45 62.5h1M0 63.5h1M59 63.5h1M40 64.5h1M59 64.5h1M32 65.5h2M23 66.5h1M27 66.5h1M57 66.5h1M28 69.5h1M16 72.5h1M13 73.5h1M18 73.5h2M30 73.5h1M59 73.5h1M14 74.5h1M20 74.5h1M1 75.5h1M18 75.5h1M47 77.5h1M59 77.5h1M35 78.5h1M19 79.5h1M39 79.5h1M55 79.5h1M15 80.5h1M46 80.5h1M1 84.5h1M47 84.5h1M25 87.5h1M35 87.5h1M48 87.5h1M14 88.5h1M42 88.5h1M28 89.5h1M58 89.5h1M38 91.5h1M47 93.5h1M5 94.5h1M35 94.5h1M54 94.5h1M6 95.5h2M15 96.5h1M12 99.5h1M57 100.5h1M18 102.5h1M24 102.5h1M6 103.5h1M8 103.5h1M8 104.5h1M18 104.5h1M29 104.5h1M48 104.5h1M48 105.5h1M57 105.5h1M21 106.5h1M56 106.5h1M23 107.5h1M11 108.5h1M41 108.5h1M45 108.5h1M48 108.5h1M53 108.5h1M12 109.5h1M12 110.5h1M47 117.5h1M40 118.5h1M45 119.5h2M51 119.5h1"/>
<path stroke="#4461fe" d="M19 23.5h2M39 27.5h1M51 28.5h1M12 34.5h1M28 34.5h1M55 35.5h1M22 37.5h1M45 38.5h1M10 39.5h1M41 40.5h1M53 41.5h1M13 43.5h1M58 43.5h1M42 44.5h1M58 44.5h1M34 45.5h1M52 45.5h1M14 46.5h1M16 47.5h1M52 47.5h1M36 48.5h1M3 49.5h1M15 50.5h1M31 50.5h1M37 50.5h1M17 51.5h1M44 51.5h1M15 52.5h1M34 53.5h1M49 54.5h1M54 55.5h1M27 61.5h1M17 64.5h1M29 64.5h1M43 64.5h1M44 65.5h1M16 67.5h1M35 68.5h1M38 69.5h1M16 73.5h2M53 73.5h1M1 76.5h1M4 76.5h1M8 77.5h1M45 78.5h1M15 79.5h1M17 81.5h1M21 82.5h1M31 82.5h1M15 83.5h1M3 86.5h1M11 86.5h1M20 86.5h1M24 87.5h1M41 88.5h1M17 89.5h1M27 89.5h1M44 94.5h1M7 97.5h1M5 99.5h1M44 99.5h1M30 102.5h1M11 103.5h1M37 103.5h1M7 107.5h1M32 107.5h1M41 107.5h1M51 107.5h1M8 108.5h1M20 109.5h1M21 111.5h1M23 111.5h1M50 112.5h1M38 113.5h1M1 115.5h1M4 116.5h1M1 118.5h1"/>
<path stroke="#4268ff" d="M43 19.5h1M12 23.5h1M17 23.5h1M25 23.5h1M7 25.5h2M32 26.5h2M23 27.5h1M36 27.5h1M40 27.5h1M42 27.5h1M56 27.5h1M19 28.5h1M32 28.5h1M5 29.5h1M1 30.5h1M10 30.5h1M32 30.5h1M32 31.5h1M25 33.5h1M17 34.5h1M28 35.5h1M7 36.5h1M17 36.5h1M32 36.5h1M42 36.5h1M29 37.5h1M0 38.5h1M47 38.5h1M59 38.5h1M15 39.5h1M50 39.5h1M4 40.5h1M10 41.5h1M30 43.5h1M11 45.5h1M17 46.5h1M57 47.5h1M53 48.5h1M45 49.5h1M18 50.5h1M3 54.5h2M22 55.5h1M44 57.5h1M33 62.5h1M7 63.5h1M48 63.5h1M35 65.5h1M40 65.5h1M19 67.5h1M4 68.5h1M6 69.5h1M13 70.5h1M0 73.5h1M8 73.5h1M15 73.5h1M46 73.5h1M17 75.5h1M25 75.5h1M17 76.5h1M14 83.5h1M19 83.5h1M29 86.5h1M47 86.5h1M11 88.5h1M21 88.5h1M6 90.5h1M51 90.5h1M25 91.5h1M12 94.5h1M57 94.5h1M16 96.5h1M23 96.5h1M55 97.5h1M46 98.5h1M4 99.5h1M15 99.5h1M13 100.5h1M30 101.5h1M17 102.5h1M49 103.5h1M17 104.5h1M52 105.5h1M13 106.5h1M34 109.5h1M38 109.5h1M38 110.5h1M56 110.5h1M12 111.5h1M14 113.5h1M35 113.5h1M30 115.5h1"/>
<path stroke="#3e6fff" d="M10 22.5h1M25 24.5h1M9 27.5h1M25 27.5h1M34 27.5h1M40 28.5h1M53 28.5h1M57 28.5h1M6 31.5h1M13 32.5h1M58 32.5h1M11 33.5h1M51 33.5h2M3 34.5h1M39 36.5h1M18 38.5h1M14 39.5h1M21 40.5h1M56 41.5h1M30 50.5h1M43 50.5h1M53 52.5h1M3 53.5h1M30 53.5h1M10 55.5h1M39 58.5h1M56 61.5h1M27 63.5h1M43 63.5h1M55 64.5h1M14 73.5h1M54 73.5h1M22 74.5h1M52 74.5h1M42 80.5h1M13 83.5h1M45 86.5h1M49 87.5h1M50 88.5h1M29 89.5h1M42 89.5h1M56 91.5h1M12 95.5h1M31 95.5h1M20 98.5h1M26 99.5h1M6 102.5h1M54 105.5h1M8 107.5h1M50 110.5h1M43 111.5h1M0 113.5h1M59 113.5h1M47 114.5h1M56 119.5h1"/>
<path stroke="#3875fe" d="M29 24.5h1M15 25.5h1M28 25.5h1M1 26.5h1M41 26.5h1M41 28.5h1M44 28.5h1M32 29.5h1M55 29.5h1M17 30.5h1M32 32.5h1M18 35.5h1M32 35.5h1M36 35.5h1M29 36.5h1M30 38.5h1M0 40.5h1M31 40.5h1M26 41.5h1M23 44.5h1M34 44.5h1M49 45.5h1M12 47.5h1M51 49.5h1M10 51.5h1M12 52.5h1M26 53.5h1M22 54.5h1M44 59.5h1M36 60.5h1M9 61.5h1M45 61.5h1M9 65.5h1M44 67.5h1M13 72.5h1M56 72.5h1M0 76.5h1M2 78.5h1M13 78.5h1M44 78.5h1M15 82.5h2M44 86.5h1M32 88.5h1M54 88.5h1M15 90.5h1M39 90.5h1M5 97.5h1M18 99.5h1M54 100.5h1M3 103.5h1M6 104.5h1M24 108.5h1M13 110.5h1M39 113.5h1M22 114.5h1M31 115.5h1M13 116.5h1M3 117.5h1M15 119.5h1"/>
<path stroke="#327cfc" d="M6 22.5h1M26 23.5h1M28 24.5h1M11 26.5h1M18 26.5h1M51 27.5h1M59 27.5h1M56 28.5h1M55 31.5h1M59 32.5h1M22 35.5h2M54 36.5h1M37 38.5h1M13 39.5h1M12 41.5h1M44 42.5h1M6 46.5h1M14 47.5h1M5 50.5h1M10 53.5h1M20 58.5h1M11 61.5h1M6 64.5h1M17 65.5h1M44 66.5h1M29 77.5h1M29 81.5h1M46 81.5h1M33 86.5h1M20 88.5h1M30 90.5h1M33 92.5h1M42 94.5h1M15 95.5h1M30 96.5h1M19 99.5h1M4 100.5h1M48 109.5h1M13 112.5h1M31 112.5h1M43 112.5h1M52 112.5h1M46 114.5h1M23 116.5h1M20 117.5h1"/>
<path stroke="#2f81fa" d="M13 29.5h1M29 29.5h1M26 31.5h1M59 31.5h1M29 32.5h1M24 34.5h1M32 34.5h1M29 35.5h1M0 36.5h1M30 39.5h1M52 40.5h1M48 41.5h1M59 41.5h1M10 48.5h1M12 49.5h1M6 54.5h1M7 57.5h1M25 59.5h1M3 63.5h1M7 69.5h1M21 69.5h1M56 71.5h1M50 77.5h1M49 80.5h1M42 82.5h1M2 87.5h1M41 97.5h1M54 97.5h1M27 105.5h1M10 106.5h1M47 108.5h1M32 111.5h2M39 112.5h1M41 113.5h1M48 118.5h1"/>
<path stroke="#2e87f7" d="M2 23.5h1M16 23.5h1M10 26.5h1M50 27.5h1M55 27.5h1M7 29.5h1M2 33.5h1M13 34.5h1M17 35.5h1M16 36.5h1M49 37.5h1M38 38.5h1M10 43.5h1M12 53.5h1M34 57.5h1M14 58.5h1M45 66.5h1M17 69.5h1M29 69.5h1M10 71.5h1M43 74.5h1M12 79.5h1M57 79.5h1M3 87.5h1M23 87.5h1M4 89.5h1M44 106.5h1M48 113.5h1M57 113.5h1M34 115.5h1"/>
<path stroke="#2d8cf3" d="M9 25.5h1M13 25.5h1M29 28.5h1M45 28.5h1M8 29.5h1M29 30.5h1M41 30.5h1M5 31.5h1M29 33.5h1M47 34.5h1M6 37.5h1M27 40.5h1M9 42.5h1M54 42.5h1M18 51.5h1M31 51.5h1M11 53.5h1M40 56.5h1M29 63.5h1M10 70.5h1M13 77.5h1M39 104.5h1M10 107.5h1M5 118.5h1M23 119.5h1"/>
<path stroke="#2b91ef" d="M24 33.5h1M49 36.5h1M52 36.5h1M48 40.5h1M58 46.5h1M38 50.5h1M56 66.5h1M46 68.5h1M22 88.5h1M36 88.5h1M29 107.5h1M16 119.5h1"/>
<path stroke="#2797eb" d="M29 25.5h1M32 33.5h1M29 39.5h1M31 39.5h1M38 39.5h1M29 40.5h2M18 72.5h2M28 73.5h1M5 83.5h1M49 89.5h1M41 103.5h1M31 104.5h1M5 110.5h1"/>
<path stroke="#259be8" d="M8 26.5h1M14 31.5h1M0 37.5h1M19 42.5h1M48 57.5h1M33 64.5h1M43 78.5h1M18 79.5h1M7 90.5h1M52 102.5h1M41 109.5h1M47 113.5h1"/>
<path stroke="#23a0e5" d="M8 28.5h1M29 31.5h1M29 34.5h1M8 41.5h1M7 47.5h1M14 52.5h1M20 56.5h1M37 60.5h1M48 82.5h1M37 108.5h1"/>
<path stroke="#20a5e3" d="M42 23.5h1M27 25.5h1M42 25.5h1M40 26.5h1M4 42.5h1"/>
<path stroke="#1ca9df" d="M30 37.5h1M14 40.5h1M8 42.5h1M55 94.5h1"/>
<path stroke="#18addb" d="M16 29.5h1M26 29.5h1M54 93.5h1"/>
<path stroke="#12b1d6" d="M29 27.5h1M31 33.5h1M49 63.5h1M51 85.5h1"/>
<path stroke="#08b5d0" d="M4 52.5h1"/>
<path stroke="#01b8ca" d="M29 26.5h1M31 37.5h1M42 61.5h1M42 99.5h1"/>
<path stroke="#0bbdbd" d="M52 63.5h1M41 116.5h1"/>
<path stroke="#19bfb6" d="M18 24.5h1M31 35.5h1M24 74.5h1"/>
<path stroke="#24c1ae" d="M24 58.5h1M20 84.5h1M11 89.5h1"/>
<path stroke="#2cc4a7" d="M9 26.5h1"/>
<path stroke="#37c897" d="M31 30.5h1M57 54.5h1"/>
<path stroke="#4acb84" d="M31 34.5h1M30 36.5h2M50 96.5h1"/>
<path stroke="#57cc7a" d="M39 24.5h1"/>
<path stroke="#64cd6f" d="M31 38.5h1"/>
<path stroke="#72cd64" d="M34 8.5h1M27 13.5h1M38 13.5h1M34 14.5h1M43 18.5h1M42 21.5h1M42 22.5h1M33 29.5h1M46 61.5h1M50 76.5h1"/>
<path stroke="#81cc59" d="M30 27.5h1M31 32.5h1"/>
<path stroke="#8fcb4e" d="M30 35.5h1"/>
<path stroke="#e6bb2d" d="M31 25.5h1"/>
<path stroke="#f0ba36" d="M22 8.5h1M6 10.5h1M28 12.5h1M44 17.5h1M35 20.5h2M48 21.5h1M35 22.5h5M48 22.5h1M55 24.5h1"/>
<path stroke="#febe3c" d="M30 26.5h2M31 27.5h1M30 28.5h1M30 32.5h1"/>
<path stroke="#fec934" d="M31 28.5h1"/>
<path stroke="#fad62d" d="M30 25.5h1M31 29.5h1"/>
<path stroke="#f9fb15" d="M22 0.5h1M9 1.5h1M20 1.5h2M32 1.5h1M40 1.5h1M21 2.5h1M24 2.5h1M26 2.5h1M6 3.5h1M23 3.5h1M5 4.5h1M12 4.5h1M21 4.5h1M26 4.5h2M35 4.5h1M52 4.5h2M3 5.5h1M9 5.5h2M27 5.5h1M31 5.5h1M53 5.5h1M6 6.5h2M23 6.5h1M25 6.5h1M27 6.5h1M30 6.5h2M36 6.5h1M39 6.5h1M46 6.5h1M53 6.5h1M56 6.5h1M0 7.5h1M3 7.5h1M6 7.5h1M22 7.5h1M25 7.5h2M28 7.5h1M36 7.5h1M39 7.5h1M46 7.5h2M50 7.5h1M56 7.5h1M2 8.5h1M10 8.5h1M24 8.5h2M51 8.5h1M1 9.5h2M13 9.5h1M16 9.5h1M22 9.5h2M25 9.5h2M28 9.5h1M39 9.5h2M46 9.5h4M52 9.5h1M11 10.5h1M14 10.5h1M28 10.5h1M32 10.5h1M37 10.5h1M39 10.5h1M52 10.5h1M55 10.5h1M2 11.5h2M5 11.5h2M12 11.5h2M25 11.5h2M33 11.5h2M37 11.5h1M41 11.5h1M55 11.5h1M11 12.5h1M13 12.5h1M37 12.5h1M50 12.5h1M54 12.5h1M4 13.5h1M11 13.5h1M17 13.5h1M29 13.5h2M39 13.5h1M41 13.5h3M46 13.5h2M49 13.5h1M59 13.5h1M6 14.5h1M18 14.5h1M21 14.5h1M25 14.5h1M27 14.5h1M29 14.5h1M33 14.5h1M38 14.5h1M1 15.5h2M10 15.5h1M13 15.5h1M28 15.5h1M39 15.5h1M45 15.5h1M48 15.5h1M51 15.5h1M57 15.5h1M3 16.5h2M8 16.5h2M24 16.5h1M26 16.5h1M32 16.5h1M34 16.5h1M37 16.5h1M43 16.5h1M3 17.5h2M6 17.5h1M10 17.5h1M13 17.5h1M18 17.5h1M23 17.5h1M27 17.5h1M32 17.5h1M36 17.5h1M40 17.5h1M43 17.5h1M49 17.5h1M56 17.5h1M59 17.5h1M0 18.5h1M13 18.5h1M21 18.5h1M24 18.5h1M31 18.5h1M38 18.5h1M41 18.5h1M48 18.5h1M59 18.5h1M1 19.5h1M7 19.5h1M11 19.5h1M14 19.5h1M16 19.5h1M22 19.5h1M25 19.5h3M30 19.5h1M45 19.5h1M47 19.5h2M52 19.5h1M54 19.5h1M57 19.5h1M59 19.5h1M26 20.5h1M31 20.5h1M37 20.5h1M41 20.5h1M49 20.5h2M54 20.5h2M9 21.5h2M13 21.5h1M16 21.5h2M19 21.5h2M22 21.5h1M25 21.5h1M28 21.5h1M34 21.5h2M40 21.5h1M46 21.5h1M55 21.5h1M58 21.5h2M29 22.5h1M49 22.5h1M51 22.5h1M48 23.5h1M52 23.5h1M56 23.5h1M58 23.5h1M30 24.5h2M57 24.5h1M30 29.5h1M30 30.5h1M30 31.5h2M30 33.5h1M30 34.5h1"/>
</g>
<path d="M423.60 48.00V509.80M428.77 48.00V509.80M433.94 48.00V509.80M439.11 48.00V509.80M444.27 48.00V509.80M449.44 48.00V509.80M454.61 48.00V509.80M459.78 48.00V509.80M464.95 48.00V509.80M470.12 48.00V509.80M475.28 48.00V509.80M480.45 48.00V509.80M485.62 48.00V509.80M490.79 48.00V509.80M495.96 48.00V509.80M501.12 48.00V509.80M506.29 48.00V509.80M511.46 48.00V509.80M516.63 48.00V509.80M521.80 48.00V509.80M526.97 48.00V509.80M532.13 48.00V509.80M537.30 48.00V509.80M542.47 48.00V509.80M547.64 48.00V509.80M552.81 48.00V509.80M557.98 48.00V509.80M563.14 48.00V509.80M568.31 48.00V509.80M573.48 48.00V509.80M578.65 48.00V509.80M583.82 48.00V509.80M588.99 48.00V509.80M594.15 48.00V509.80M599.32 48.00V509.80M604.49 48.00V509.80M609.66 48.00V509.80M614.83 48.00V509.80M620.00 48.00V509.80M625.17 48.00V509.80M630.33 48.00V509.80M635.50 48.00V509.80M640.67 48.00V509.80M645.84 48.00V509.80M651.01 48.00V509.80M656.18 48.00V509.80M661.34 48.00V509.80M666.51 48.00V509.80M671.68 48.00V509.80M676.85 48.00V509.80M682.02 48.00V509.80M687.19 48.00V509.80M692.35 48.00V509.80M697.52 48.00V509.80M702.69 48.00V509.80M707.86 48.00V509.80M713.03 48.00V509.80M718.20 48.00V509.80M723.36 48.00V509.80M728.53 48.00V509.80M733.70 48.00V509.80M423.60 48.00H733.70M423.60 51.85H733.70M423.60 55.70H733.70M423.60 59.55H733.70M423.60 63.39H733.70M423.60 67.24H733.70M423.60 71.09H733.70M423.60 74.94H733.70M423.60 78.79H733.70M423.60 82.64H733.70M423.60 86.48H733.70M423.60 90.33H733.70M423.60 94.18H733.70M423.60 98.03H733.70M423.60 101.88H733.70M423.60 105.72H733.70M423.60 109.57H733.70M423.60 113.42H733.70M423.60 117.27H733.70M423.60 121.12H733.70M423.60 124.97H733.70M423.60 128.81H733.70M423.60 132.66H733.70M423.60 136.51H733.70M423.60 140.36H733.70M423.60 144.21H733.70M423.60 148.06H733.70M423.60 151.91H733.70M423.60 155.75H733.70M423.60 159.60H733.70M423.60 163.45H733.70M423.60 167.30H733.70M423.60 171.15H733.70M423.60 175.00H733.70M423.60 178.84H733.70M423.60 182.69H733.70M423.60 186.54H733.70M423.60 190.39H733.70M423.60 194.24H733.70M423.60 198.09H733.70M423.60 201.93H733.70M423.60 205.78H733.70M423.60 209.63H733.70M423.60 213.48H733.70M423.60 217.33H733.70M423.60 221.18H733.70M423.60 225.02H733.70M423.60 228.87H733.70M423.60 232.72H733.70M423.60 236.57H733.70M423.60 240.42H733.70M423.60 244.27H733.70M423.60 248.11H733.70M423.60 251.96H733.70M423.60 255.81H733.70M423.60 259.66H733.70M423.60 263.51H733.70M423.60 267.36H733.70M423.60 271.20H733.70M423.60 275.05H733.70M423.60 278.90H733.70M423.60 282.75H733.70M423.60 286.60H733.70M423.60 290.45H733.70M423.60 294.29H733.70M423.60 298.14H733.70M423.60 301.99H733.70M423.60 305.84H733.70M423.60 309.69H733.70M423.60 313.54H733.70M423.60 317.38H733.70M423.60 321.23H733.70M423.60 325.08H733.70M423.60 328.93H733.70M423.60 332.78H733.70M423.60 336.62H733.70M423.60 340.47H733.70M423.60 344.32H733.70M423.60 348.17H733.70M423.60 352.02H733.70M423.60 355.87H733.70M423.60 359.72H733.70M423.60 363.56H733.70M423.60 367.41H733.70M423.60 371.26H733.70M423.60 375.11H733.70M423.60 378.96H733.70M423.60 382.81H733.70M423.60 386.65H733.70M423.60 390.50H733.70M423.60 394.35H733.70M423.60 398.20H733.70M423.60 402.05H733.70M423.60 405.90H733.70M423.60 409.74H733.70M423.60 413.59H733.70M423.60 417.44H733.70M423.60 421.29H733.70M423.60 425.14H733.70M423.60 428.99H733.70M423.60 432.83H733.70M423.60 436.68H733.70M423.60 440.53H733.70M423.60 444.38H733.70M423.60 448.23H733.70M423.60 452.08H733.70M423.60 455.92H733.70M423.60 459.77H733.70M423.60 463.62H733.70M423.60 467.47H733.70M423.60 471.32H733.70M423.60 475.17H733.70M423.60 479.01H733.70M423.60 482.86H733.70M423.60 486.71H733.70M423.60 490.56H733.70M423.60 494.41H733.70M423.60 498.26H733.70M423.60 502.10H733.70M423.60 505.95H733.70M423.60 509.80H733.70" fill="none" stroke="#000" stroke-width="0.65" opacity="0.8"/><line x1="423.3" y1="428.7" x2="734.6" y2="411.1" stroke="#f4206f" stroke-width="3.6"/></g>
<defs><linearGradient id="cb" x1="0" y1="1" x2="0" y2="0">
<stop offset="0.0000" stop-color="#3e26a8"/>
<stop offset="0.0159" stop-color="#402ab4"/>
<stop offset="0.0317" stop-color="#422ec0"/>
<stop offset="0.0476" stop-color="#4332cb"/>
<stop offset="0.0635" stop-color="#4537d5"/>
<stop offset="0.0794" stop-color="#463cde"/>
<stop offset="0.0952" stop-color="#4741e5"/>
<stop offset="0.1111" stop-color="#4747eb"/>
<stop offset="0.1270" stop-color="#484df0"/>
<stop offset="0.1429" stop-color="#4852f4"/>
<stop offset="0.1587" stop-color="#4758f8"/>
<stop offset="0.1746" stop-color="#465efb"/>
<stop offset="0.1905" stop-color="#4563fd"/>
<stop offset="0.2063" stop-color="#4269fe"/>
<stop offset="0.2222" stop-color="#3e6fff"/>
<stop offset="0.2381" stop-color="#3875fe"/>
<stop offset="0.2540" stop-color="#327cfc"/>
<stop offset="0.2698" stop-color="#2f81fa"/>
<stop offset="0.2857" stop-color="#2e87f7"/>
<stop offset="0.3016" stop-color="#2d8cf3"/>
<stop offset="0.3175" stop-color="#2b91ef"/>
<stop offset="0.3333" stop-color="#2797eb"/>
<stop offset="0.3492" stop-color="#259be8"/>
<stop offset="0.3651" stop-color="#23a0e5"/>
<stop offset="0.3810" stop-color="#20a5e3"/>
<stop offset="0.3968" stop-color="#1ca9df"/>
<stop offset="0.4127" stop-color="#18addb"/>
<stop offset="0.4286" stop-color="#12b1d6"/>
<stop offset="0.4444" stop-color="#08b5d0"/>
<stop offset="0.4603" stop-color="#01b8ca"/>
<stop offset="0.4762" stop-color="#02bac3"/>
<stop offset="0.4921" stop-color="#0bbdbd"/>
<stop offset="0.5079" stop-color="#19bfb6"/>
<stop offset="0.5238" stop-color="#24c1ae"/>
<stop offset="0.5397" stop-color="#2cc4a7"/>
<stop offset="0.5556" stop-color="#31c69f"/>
<stop offset="0.5714" stop-color="#37c897"/>
<stop offset="0.5873" stop-color="#3fca8e"/>
<stop offset="0.6032" stop-color="#4acb84"/>
<stop offset="0.6190" stop-color="#57cc7a"/>
<stop offset="0.6349" stop-color="#64cd6f"/>
<stop offset="0.6508" stop-color="#72cd64"/>
<stop offset="0.6667" stop-color="#81cc59"/>
<stop offset="0.6825" stop-color="#8fcb4e"/>
<stop offset="0.6984" stop-color="#9dc943"/>
<stop offset="0.7143" stop-color="#abc739"/>
<stop offset="0.7302" stop-color="#b9c431"/>
<stop offset="0.7460" stop-color="#c5c22a"/>
<stop offset="0.7619" stop-color="#d1bf27"/>
<stop offset="0.7778" stop-color="#dcbd29"/>
<stop offset="0.7937" stop-color="#e6bb2d"/>
<stop offset="0.8095" stop-color="#f0ba36"/>
<stop offset="0.8254" stop-color="#f8ba3d"/>
<stop offset="0.8413" stop-color="#febe3c"/>
<stop offset="0.8571" stop-color="#fec338"/>
<stop offset="0.8730" stop-color="#fec934"/>
<stop offset="0.8889" stop-color="#fccf30"/>
<stop offset="0.9048" stop-color="#fad62d"/>
<stop offset="0.9206" stop-color="#f7dc2a"/>
<stop offset="0.9365" stop-color="#f5e327"/>
<stop offset="0.9524" stop-color="#f5e924"/>
<stop offset="0.9683" stop-color="#f6ef20"/>
<stop offset="0.9841" stop-color="#f7f51b"/>
<stop offset="1.0000" stop-color="#f9fb15"/>
</linearGradient></defs>
<rect x="740.50" y="48.30" width="16.20" height="461.50" fill="url(#cb)"/>
<path d="M755.40 48.30V509.80" stroke="#2a2a2a" stroke-width="0.7" fill="none"/>
<path d="M751.80 433.23H755.70M751.80 356.27H755.70M751.80 279.30H755.70M751.80 202.33H755.70M751.80 125.37H755.70" stroke="#222" stroke-width="0.7" fill="none"/>
<text x="32.2" y="108.5" font-size="24.6" text-anchor="start" textLength="57.0" lengthAdjust="spacingAndGlyphs">1200</text>
<text x="32.2" y="176.8" font-size="24.6" text-anchor="start" textLength="57.0" lengthAdjust="spacingAndGlyphs">1000</text>
<text x="46.5" y="245.0" font-size="24.6" text-anchor="start" textLength="43.6" lengthAdjust="spacingAndGlyphs">800</text>
<text x="46.5" y="313.3" font-size="24.6" text-anchor="start" textLength="43.6" lengthAdjust="spacingAndGlyphs">600</text>
<text x="46.5" y="381.6" font-size="24.6" text-anchor="start" textLength="43.6" lengthAdjust="spacingAndGlyphs">400</text>
<text x="46.5" y="449.8" font-size="24.6" text-anchor="start" textLength="43.6" lengthAdjust="spacingAndGlyphs">200</text>
<text x="155.0" y="532.2" font-size="24.6" text-anchor="start" textLength="43.3" lengthAdjust="spacingAndGlyphs">200</text>
<text x="245.8" y="532.2" font-size="24.6" text-anchor="start" textLength="43.3" lengthAdjust="spacingAndGlyphs">400</text>
<text x="336.9" y="532.2" font-size="24.6" text-anchor="start" textLength="43.3" lengthAdjust="spacingAndGlyphs">600</text>
<text x="487.3" y="532.2" font-size="24.6" text-anchor="start" textLength="43.3" lengthAdjust="spacingAndGlyphs">200</text>
<text x="580.1" y="532.2" font-size="24.6" text-anchor="start" textLength="43.3" lengthAdjust="spacingAndGlyphs">400</text>
<text x="673.1" y="532.2" font-size="24.6" text-anchor="start" textLength="43.3" lengthAdjust="spacingAndGlyphs">600</text>
<text x="763.2" y="518.0" font-size="24.6" text-anchor="start" textLength="13.6" lengthAdjust="spacingAndGlyphs">0</text>
<text x="763.2" y="441.0" font-size="24.6" text-anchor="start" textLength="36.8" lengthAdjust="spacingAndGlyphs">0.5</text>
<text x="763.2" y="364.1" font-size="24.6" text-anchor="start" textLength="13.6" lengthAdjust="spacingAndGlyphs">1</text>
<text x="763.2" y="287.1" font-size="24.6" text-anchor="start" textLength="36.8" lengthAdjust="spacingAndGlyphs">1.5</text>
<text x="763.2" y="210.1" font-size="24.6" text-anchor="start" textLength="13.6" lengthAdjust="spacingAndGlyphs">2</text>
<text x="763.2" y="133.2" font-size="24.6" text-anchor="start" textLength="36.8" lengthAdjust="spacingAndGlyphs">2.5</text>
<text x="763.2" y="56.2" font-size="24.6" text-anchor="start" textLength="13.6" lengthAdjust="spacingAndGlyphs">3</text>
<text x="94.8" y="34.9" font-size="28.0" text-anchor="start" textLength="35.8" lengthAdjust="spacingAndGlyphs">(a)</text>
<text x="431.9" y="34.9" font-size="28.0" text-anchor="start" textLength="36.8" lengthAdjust="spacingAndGlyphs">(b)</text>
<text y="563.7" font-size="28.0"><tspan x="195.6" font-style="italic" textLength="16" lengthAdjust="spacingAndGlyphs">x</tspan><tspan x="225.6" font-size="32">(</tspan><tspan x="237.5" textLength="14.6" lengthAdjust="spacingAndGlyphs">µ</tspan><tspan x="253.7" textLength="26.2" lengthAdjust="spacingAndGlyphs">m</tspan><tspan x="281.6" font-size="32">)</tspan></text>
<text y="563.7" font-size="28.0"><tspan x="525.3" font-style="italic" textLength="16" lengthAdjust="spacingAndGlyphs">x</tspan><tspan x="555.3" font-size="32">(</tspan><tspan x="567.2" textLength="14.6" lengthAdjust="spacingAndGlyphs">µ</tspan><tspan x="583.4" textLength="26.2" lengthAdjust="spacingAndGlyphs">m</tspan><tspan x="611.3" font-size="32">)</tspan></text>
<g transform="translate(24.6,328) rotate(-90)"><text y="0" font-size="28.0"><tspan x="0" font-style="italic" textLength="13" lengthAdjust="spacingAndGlyphs">z</tspan><tspan x="26.5" font-size="32">(</tspan><tspan x="38.4" textLength="14.6" lengthAdjust="spacingAndGlyphs">µ</tspan><tspan x="54.6" textLength="26.2" lengthAdjust="spacingAndGlyphs">m</tspan><tspan x="82.5" font-size="32">)</tspan></text></g>
<text y="28.8" font-size="25.5"><tspan x="678" font-style="italic" font-size="24">ρ</tspan><tspan x="702" textLength="35" lengthAdjust="spacingAndGlyphs">(10</tspan><tspan x="738" dy="-7.6" font-size="17" textLength="23" lengthAdjust="spacingAndGlyphs">10</tspan><tspan x="769.8" dy="7.6" textLength="34" lengthAdjust="spacingAndGlyphs">cm</tspan><tspan x="804" dy="-7.6" font-size="17" textLength="27.5" lengthAdjust="spacingAndGlyphs">−3</tspan><tspan x="831.6" dy="7.6">)</tspan></text>
</svg></body></html>
